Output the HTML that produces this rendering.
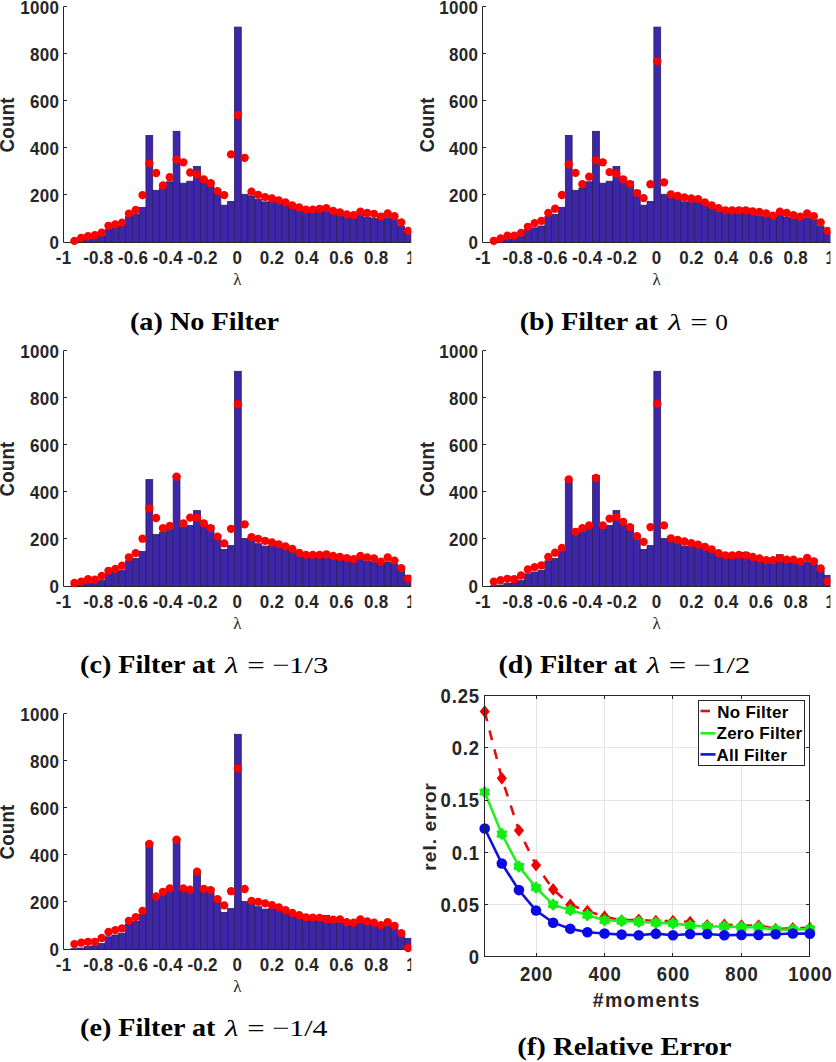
<!DOCTYPE html>
<html><head><meta charset="utf-8"><style>
html,body{margin:0;padding:0;background:#fff;}
svg{display:block;}
</style></head><body>
<svg width="836" height="1062" viewBox="0 0 836 1062">
<rect width="836" height="1062" fill="#ffffff"/>
<clipPath id="ca"><rect x="0" y="0" width="411.2" height="300"/></clipPath>
<g clip-path="url(#ca)">
<g>
<rect x="71.01" y="241.50" width="6.81" height="1.00" fill="#3d26a8" stroke="#2a1f5c" stroke-width="0.8"/>
<rect x="77.82" y="240.80" width="6.81" height="1.70" fill="#3d26a8" stroke="#2a1f5c" stroke-width="0.8"/>
<rect x="84.63" y="239.40" width="6.81" height="3.10" fill="#3d26a8" stroke="#2a1f5c" stroke-width="0.8"/>
<rect x="91.44" y="238.60" width="6.81" height="3.90" fill="#3d26a8" stroke="#2a1f5c" stroke-width="0.8"/>
<rect x="98.25" y="236.40" width="6.81" height="6.10" fill="#3d26a8" stroke="#2a1f5c" stroke-width="0.8"/>
<rect x="105.06" y="229.60" width="6.81" height="12.90" fill="#3d26a8" stroke="#2a1f5c" stroke-width="0.8"/>
<rect x="111.87" y="227.80" width="6.81" height="14.70" fill="#3d26a8" stroke="#2a1f5c" stroke-width="0.8"/>
<rect x="118.68" y="226.00" width="6.81" height="16.50" fill="#3d26a8" stroke="#2a1f5c" stroke-width="0.8"/>
<rect x="125.49" y="216.60" width="6.81" height="25.90" fill="#3d26a8" stroke="#2a1f5c" stroke-width="0.8"/>
<rect x="132.30" y="214.30" width="6.81" height="28.20" fill="#3d26a8" stroke="#2a1f5c" stroke-width="0.8"/>
<rect x="139.11" y="207.30" width="6.81" height="35.20" fill="#3d26a8" stroke="#2a1f5c" stroke-width="0.8"/>
<rect x="145.92" y="135.40" width="6.81" height="107.10" fill="#3d26a8" stroke="#2a1f5c" stroke-width="0.8"/>
<rect x="152.73" y="190.30" width="6.81" height="52.20" fill="#3d26a8" stroke="#2a1f5c" stroke-width="0.8"/>
<rect x="159.54" y="188.00" width="6.81" height="54.50" fill="#3d26a8" stroke="#2a1f5c" stroke-width="0.8"/>
<rect x="166.35" y="181.80" width="6.81" height="60.70" fill="#3d26a8" stroke="#2a1f5c" stroke-width="0.8"/>
<rect x="173.16" y="131.30" width="6.81" height="111.20" fill="#3d26a8" stroke="#2a1f5c" stroke-width="0.8"/>
<rect x="179.97" y="183.20" width="6.81" height="59.30" fill="#3d26a8" stroke="#2a1f5c" stroke-width="0.8"/>
<rect x="186.78" y="181.20" width="6.81" height="61.30" fill="#3d26a8" stroke="#2a1f5c" stroke-width="0.8"/>
<rect x="193.59" y="166.40" width="6.81" height="76.10" fill="#3d26a8" stroke="#2a1f5c" stroke-width="0.8"/>
<rect x="200.40" y="180.00" width="6.81" height="62.50" fill="#3d26a8" stroke="#2a1f5c" stroke-width="0.8"/>
<rect x="207.21" y="181.20" width="6.81" height="61.30" fill="#3d26a8" stroke="#2a1f5c" stroke-width="0.8"/>
<rect x="214.02" y="190.20" width="6.81" height="52.30" fill="#3d26a8" stroke="#2a1f5c" stroke-width="0.8"/>
<rect x="220.83" y="205.20" width="6.81" height="37.30" fill="#3d26a8" stroke="#2a1f5c" stroke-width="0.8"/>
<rect x="227.64" y="201.40" width="6.81" height="41.10" fill="#3d26a8" stroke="#2a1f5c" stroke-width="0.8"/>
<rect x="234.45" y="27.10" width="6.81" height="215.40" fill="#3d26a8" stroke="#2a1f5c" stroke-width="0.8"/>
<rect x="241.26" y="194.30" width="6.81" height="48.20" fill="#3d26a8" stroke="#2a1f5c" stroke-width="0.8"/>
<rect x="248.07" y="196.00" width="6.81" height="46.50" fill="#3d26a8" stroke="#2a1f5c" stroke-width="0.8"/>
<rect x="254.88" y="199.50" width="6.81" height="43.00" fill="#3d26a8" stroke="#2a1f5c" stroke-width="0.8"/>
<rect x="261.69" y="201.90" width="6.81" height="40.60" fill="#3d26a8" stroke="#2a1f5c" stroke-width="0.8"/>
<rect x="268.50" y="201.50" width="6.81" height="41.00" fill="#3d26a8" stroke="#2a1f5c" stroke-width="0.8"/>
<rect x="275.31" y="202.80" width="6.81" height="39.70" fill="#3d26a8" stroke="#2a1f5c" stroke-width="0.8"/>
<rect x="282.12" y="205.00" width="6.81" height="37.50" fill="#3d26a8" stroke="#2a1f5c" stroke-width="0.8"/>
<rect x="288.93" y="207.60" width="6.81" height="34.90" fill="#3d26a8" stroke="#2a1f5c" stroke-width="0.8"/>
<rect x="295.74" y="210.60" width="6.81" height="31.90" fill="#3d26a8" stroke="#2a1f5c" stroke-width="0.8"/>
<rect x="302.55" y="212.30" width="6.81" height="30.20" fill="#3d26a8" stroke="#2a1f5c" stroke-width="0.8"/>
<rect x="309.36" y="212.00" width="6.81" height="30.50" fill="#3d26a8" stroke="#2a1f5c" stroke-width="0.8"/>
<rect x="316.17" y="211.00" width="6.81" height="31.50" fill="#3d26a8" stroke="#2a1f5c" stroke-width="0.8"/>
<rect x="322.98" y="208.10" width="6.81" height="34.40" fill="#3d26a8" stroke="#2a1f5c" stroke-width="0.8"/>
<rect x="329.79" y="212.00" width="6.81" height="30.50" fill="#3d26a8" stroke="#2a1f5c" stroke-width="0.8"/>
<rect x="336.60" y="215.80" width="6.81" height="26.70" fill="#3d26a8" stroke="#2a1f5c" stroke-width="0.8"/>
<rect x="343.41" y="216.80" width="6.81" height="25.70" fill="#3d26a8" stroke="#2a1f5c" stroke-width="0.8"/>
<rect x="350.22" y="218.30" width="6.81" height="24.20" fill="#3d26a8" stroke="#2a1f5c" stroke-width="0.8"/>
<rect x="357.03" y="210.50" width="6.81" height="32.00" fill="#3d26a8" stroke="#2a1f5c" stroke-width="0.8"/>
<rect x="363.84" y="217.30" width="6.81" height="25.20" fill="#3d26a8" stroke="#2a1f5c" stroke-width="0.8"/>
<rect x="370.65" y="218.30" width="6.81" height="24.20" fill="#3d26a8" stroke="#2a1f5c" stroke-width="0.8"/>
<rect x="377.46" y="219.70" width="6.81" height="22.80" fill="#3d26a8" stroke="#2a1f5c" stroke-width="0.8"/>
<rect x="384.27" y="217.80" width="6.81" height="24.70" fill="#3d26a8" stroke="#2a1f5c" stroke-width="0.8"/>
<rect x="391.08" y="219.70" width="6.81" height="22.80" fill="#3d26a8" stroke="#2a1f5c" stroke-width="0.8"/>
<rect x="397.89" y="226.40" width="6.81" height="16.10" fill="#3d26a8" stroke="#2a1f5c" stroke-width="0.8"/>
<rect x="404.70" y="231.10" width="6.81" height="11.40" fill="#3d26a8" stroke="#2a1f5c" stroke-width="0.8"/>
<path d="M63.50 6.60V242.50H411.51" fill="none" stroke="#262626" stroke-width="1"/>
<line x1="63.50" y1="194.50" x2="67.00" y2="194.50" stroke="#262626" stroke-width="1"/>
<line x1="63.50" y1="147.50" x2="67.00" y2="147.50" stroke="#262626" stroke-width="1"/>
<line x1="63.50" y1="100.50" x2="67.00" y2="100.50" stroke="#262626" stroke-width="1"/>
<line x1="63.50" y1="53.50" x2="67.00" y2="53.50" stroke="#262626" stroke-width="1"/>
<line x1="63.50" y1="6.50" x2="67.00" y2="6.50" stroke="#262626" stroke-width="1"/>
<circle cx="74.42" cy="240.90" r="4.15" fill="#ff0000"/>
<circle cx="81.22" cy="237.80" r="4.15" fill="#ff0000"/>
<circle cx="88.03" cy="236.20" r="4.15" fill="#ff0000"/>
<circle cx="94.84" cy="235.20" r="4.15" fill="#ff0000"/>
<circle cx="101.66" cy="232.60" r="4.15" fill="#ff0000"/>
<circle cx="108.47" cy="225.80" r="4.15" fill="#ff0000"/>
<circle cx="115.28" cy="224.50" r="4.15" fill="#ff0000"/>
<circle cx="122.09" cy="222.60" r="4.15" fill="#ff0000"/>
<circle cx="128.89" cy="213.60" r="4.15" fill="#ff0000"/>
<circle cx="135.70" cy="210.00" r="4.15" fill="#ff0000"/>
<circle cx="142.51" cy="195.10" r="4.15" fill="#ff0000"/>
<circle cx="149.32" cy="163.40" r="4.15" fill="#ff0000"/>
<circle cx="156.13" cy="173.00" r="4.15" fill="#ff0000"/>
<circle cx="162.94" cy="185.50" r="4.15" fill="#ff0000"/>
<circle cx="169.75" cy="177.20" r="4.15" fill="#ff0000"/>
<circle cx="176.56" cy="159.50" r="4.15" fill="#ff0000"/>
<circle cx="183.38" cy="162.30" r="4.15" fill="#ff0000"/>
<circle cx="190.19" cy="172.50" r="4.15" fill="#ff0000"/>
<circle cx="197.00" cy="174.30" r="4.15" fill="#ff0000"/>
<circle cx="203.81" cy="179.50" r="4.15" fill="#ff0000"/>
<circle cx="210.62" cy="183.20" r="4.15" fill="#ff0000"/>
<circle cx="217.43" cy="191.10" r="4.15" fill="#ff0000"/>
<circle cx="224.24" cy="195.10" r="4.15" fill="#ff0000"/>
<circle cx="231.05" cy="154.40" r="4.15" fill="#ff0000"/>
<circle cx="237.86" cy="115.00" r="4.15" fill="#ff0000"/>
<circle cx="244.67" cy="157.80" r="4.15" fill="#ff0000"/>
<circle cx="251.47" cy="191.70" r="4.15" fill="#ff0000"/>
<circle cx="258.28" cy="194.90" r="4.15" fill="#ff0000"/>
<circle cx="265.09" cy="197.10" r="4.15" fill="#ff0000"/>
<circle cx="271.90" cy="198.50" r="4.15" fill="#ff0000"/>
<circle cx="278.71" cy="200.30" r="4.15" fill="#ff0000"/>
<circle cx="285.52" cy="202.40" r="4.15" fill="#ff0000"/>
<circle cx="292.33" cy="205.40" r="4.15" fill="#ff0000"/>
<circle cx="299.14" cy="207.50" r="4.15" fill="#ff0000"/>
<circle cx="305.95" cy="209.60" r="4.15" fill="#ff0000"/>
<circle cx="312.76" cy="209.60" r="4.15" fill="#ff0000"/>
<circle cx="319.57" cy="208.80" r="4.15" fill="#ff0000"/>
<circle cx="326.38" cy="208.10" r="4.15" fill="#ff0000"/>
<circle cx="333.19" cy="210.90" r="4.15" fill="#ff0000"/>
<circle cx="340.00" cy="212.40" r="4.15" fill="#ff0000"/>
<circle cx="346.81" cy="214.50" r="4.15" fill="#ff0000"/>
<circle cx="353.62" cy="215.20" r="4.15" fill="#ff0000"/>
<circle cx="360.43" cy="211.70" r="4.15" fill="#ff0000"/>
<circle cx="367.24" cy="213.00" r="4.15" fill="#ff0000"/>
<circle cx="374.05" cy="213.90" r="4.15" fill="#ff0000"/>
<circle cx="380.86" cy="216.60" r="4.15" fill="#ff0000"/>
<circle cx="387.67" cy="213.50" r="4.15" fill="#ff0000"/>
<circle cx="394.48" cy="216.20" r="4.15" fill="#ff0000"/>
<circle cx="401.29" cy="222.40" r="4.15" fill="#ff0000"/>
<circle cx="408.10" cy="230.90" r="4.15" fill="#ff0000"/>
<text transform="translate(59.10,248.70) scale(1,1.09)" text-anchor="end" style="font-family:'Liberation Sans',sans-serif;font-weight:bold;font-size:17px;letter-spacing:0.25px;" fill="#262626">0</text>
<text transform="translate(59.10,201.66) scale(1,1.09)" text-anchor="end" style="font-family:'Liberation Sans',sans-serif;font-weight:bold;font-size:17px;letter-spacing:0.25px;" fill="#262626">200</text>
<text transform="translate(59.10,154.62) scale(1,1.09)" text-anchor="end" style="font-family:'Liberation Sans',sans-serif;font-weight:bold;font-size:17px;letter-spacing:0.25px;" fill="#262626">400</text>
<text transform="translate(59.10,107.58) scale(1,1.09)" text-anchor="end" style="font-family:'Liberation Sans',sans-serif;font-weight:bold;font-size:17px;letter-spacing:0.25px;" fill="#262626">600</text>
<text transform="translate(59.10,60.54) scale(1,1.09)" text-anchor="end" style="font-family:'Liberation Sans',sans-serif;font-weight:bold;font-size:17px;letter-spacing:0.25px;" fill="#262626">800</text>
<text transform="translate(59.10,13.50) scale(1,1.09)" text-anchor="end" style="font-family:'Liberation Sans',sans-serif;font-weight:bold;font-size:17px;letter-spacing:0.25px;" fill="#262626">1000</text>
<text transform="translate(63.60,264.10) scale(1,1.09)" text-anchor="middle" style="font-family:'Liberation Sans',sans-serif;font-weight:bold;font-size:17px;letter-spacing:0.25px;" fill="#262626">-1</text>
<text transform="translate(98.34,264.10) scale(1,1.09)" text-anchor="middle" style="font-family:'Liberation Sans',sans-serif;font-weight:bold;font-size:17px;letter-spacing:0.25px;" fill="#262626">-0.8</text>
<text transform="translate(133.08,264.10) scale(1,1.09)" text-anchor="middle" style="font-family:'Liberation Sans',sans-serif;font-weight:bold;font-size:17px;letter-spacing:0.25px;" fill="#262626">-0.6</text>
<text transform="translate(167.82,264.10) scale(1,1.09)" text-anchor="middle" style="font-family:'Liberation Sans',sans-serif;font-weight:bold;font-size:17px;letter-spacing:0.25px;" fill="#262626">-0.4</text>
<text transform="translate(202.56,264.10) scale(1,1.09)" text-anchor="middle" style="font-family:'Liberation Sans',sans-serif;font-weight:bold;font-size:17px;letter-spacing:0.25px;" fill="#262626">-0.2</text>
<text transform="translate(237.30,264.10) scale(1,1.09)" text-anchor="middle" style="font-family:'Liberation Sans',sans-serif;font-weight:bold;font-size:17px;letter-spacing:0.25px;" fill="#262626">0</text>
<text transform="translate(272.04,264.10) scale(1,1.09)" text-anchor="middle" style="font-family:'Liberation Sans',sans-serif;font-weight:bold;font-size:17px;letter-spacing:0.25px;" fill="#262626">0.2</text>
<text transform="translate(306.78,264.10) scale(1,1.09)" text-anchor="middle" style="font-family:'Liberation Sans',sans-serif;font-weight:bold;font-size:17px;letter-spacing:0.25px;" fill="#262626">0.4</text>
<text transform="translate(341.52,264.10) scale(1,1.09)" text-anchor="middle" style="font-family:'Liberation Sans',sans-serif;font-weight:bold;font-size:17px;letter-spacing:0.25px;" fill="#262626">0.6</text>
<text transform="translate(376.26,264.10) scale(1,1.09)" text-anchor="middle" style="font-family:'Liberation Sans',sans-serif;font-weight:bold;font-size:17px;letter-spacing:0.25px;" fill="#262626">0.8</text>
<text transform="translate(411.00,264.10) scale(1,1.09)" text-anchor="middle" style="font-family:'Liberation Sans',sans-serif;font-weight:bold;font-size:17px;letter-spacing:0.25px;" fill="#262626">1</text>
<text x="237.30" y="284.80" text-anchor="middle" style="font-family:'Liberation Serif',serif;font-size:17px" fill="#262626">λ</text>
<text transform="translate(14.20,124.80) rotate(-90) scale(0.98,1.1)" text-anchor="middle" style="font-family:'Liberation Sans',sans-serif;font-weight:bold;font-size:19px;letter-spacing:0.3px;" fill="#262626">Count</text>
</g>
</g>
<clipPath id="cb"><rect x="419.4" y="0" width="411.0" height="300"/></clipPath>
<g clip-path="url(#cb)">
<g>
<rect x="490.41" y="241.50" width="6.81" height="1.00" fill="#3d26a8" stroke="#2a1f5c" stroke-width="0.8"/>
<rect x="497.22" y="240.80" width="6.81" height="1.70" fill="#3d26a8" stroke="#2a1f5c" stroke-width="0.8"/>
<rect x="504.03" y="239.40" width="6.81" height="3.10" fill="#3d26a8" stroke="#2a1f5c" stroke-width="0.8"/>
<rect x="510.84" y="238.60" width="6.81" height="3.90" fill="#3d26a8" stroke="#2a1f5c" stroke-width="0.8"/>
<rect x="517.65" y="236.40" width="6.81" height="6.10" fill="#3d26a8" stroke="#2a1f5c" stroke-width="0.8"/>
<rect x="524.46" y="229.60" width="6.81" height="12.90" fill="#3d26a8" stroke="#2a1f5c" stroke-width="0.8"/>
<rect x="531.27" y="227.80" width="6.81" height="14.70" fill="#3d26a8" stroke="#2a1f5c" stroke-width="0.8"/>
<rect x="538.08" y="226.00" width="6.81" height="16.50" fill="#3d26a8" stroke="#2a1f5c" stroke-width="0.8"/>
<rect x="544.89" y="216.60" width="6.81" height="25.90" fill="#3d26a8" stroke="#2a1f5c" stroke-width="0.8"/>
<rect x="551.70" y="214.30" width="6.81" height="28.20" fill="#3d26a8" stroke="#2a1f5c" stroke-width="0.8"/>
<rect x="558.51" y="207.30" width="6.81" height="35.20" fill="#3d26a8" stroke="#2a1f5c" stroke-width="0.8"/>
<rect x="565.32" y="135.40" width="6.81" height="107.10" fill="#3d26a8" stroke="#2a1f5c" stroke-width="0.8"/>
<rect x="572.13" y="190.30" width="6.81" height="52.20" fill="#3d26a8" stroke="#2a1f5c" stroke-width="0.8"/>
<rect x="578.94" y="188.00" width="6.81" height="54.50" fill="#3d26a8" stroke="#2a1f5c" stroke-width="0.8"/>
<rect x="585.75" y="181.80" width="6.81" height="60.70" fill="#3d26a8" stroke="#2a1f5c" stroke-width="0.8"/>
<rect x="592.56" y="131.30" width="6.81" height="111.20" fill="#3d26a8" stroke="#2a1f5c" stroke-width="0.8"/>
<rect x="599.37" y="183.20" width="6.81" height="59.30" fill="#3d26a8" stroke="#2a1f5c" stroke-width="0.8"/>
<rect x="606.18" y="181.20" width="6.81" height="61.30" fill="#3d26a8" stroke="#2a1f5c" stroke-width="0.8"/>
<rect x="612.99" y="166.40" width="6.81" height="76.10" fill="#3d26a8" stroke="#2a1f5c" stroke-width="0.8"/>
<rect x="619.80" y="180.00" width="6.81" height="62.50" fill="#3d26a8" stroke="#2a1f5c" stroke-width="0.8"/>
<rect x="626.61" y="181.20" width="6.81" height="61.30" fill="#3d26a8" stroke="#2a1f5c" stroke-width="0.8"/>
<rect x="633.42" y="190.20" width="6.81" height="52.30" fill="#3d26a8" stroke="#2a1f5c" stroke-width="0.8"/>
<rect x="640.23" y="205.20" width="6.81" height="37.30" fill="#3d26a8" stroke="#2a1f5c" stroke-width="0.8"/>
<rect x="647.04" y="201.40" width="6.81" height="41.10" fill="#3d26a8" stroke="#2a1f5c" stroke-width="0.8"/>
<rect x="653.85" y="27.10" width="6.81" height="215.40" fill="#3d26a8" stroke="#2a1f5c" stroke-width="0.8"/>
<rect x="660.66" y="194.30" width="6.81" height="48.20" fill="#3d26a8" stroke="#2a1f5c" stroke-width="0.8"/>
<rect x="667.47" y="196.00" width="6.81" height="46.50" fill="#3d26a8" stroke="#2a1f5c" stroke-width="0.8"/>
<rect x="674.28" y="199.50" width="6.81" height="43.00" fill="#3d26a8" stroke="#2a1f5c" stroke-width="0.8"/>
<rect x="681.09" y="201.90" width="6.81" height="40.60" fill="#3d26a8" stroke="#2a1f5c" stroke-width="0.8"/>
<rect x="687.90" y="201.50" width="6.81" height="41.00" fill="#3d26a8" stroke="#2a1f5c" stroke-width="0.8"/>
<rect x="694.71" y="202.80" width="6.81" height="39.70" fill="#3d26a8" stroke="#2a1f5c" stroke-width="0.8"/>
<rect x="701.52" y="205.00" width="6.81" height="37.50" fill="#3d26a8" stroke="#2a1f5c" stroke-width="0.8"/>
<rect x="708.33" y="207.60" width="6.81" height="34.90" fill="#3d26a8" stroke="#2a1f5c" stroke-width="0.8"/>
<rect x="715.14" y="210.60" width="6.81" height="31.90" fill="#3d26a8" stroke="#2a1f5c" stroke-width="0.8"/>
<rect x="721.95" y="212.30" width="6.81" height="30.20" fill="#3d26a8" stroke="#2a1f5c" stroke-width="0.8"/>
<rect x="728.76" y="212.00" width="6.81" height="30.50" fill="#3d26a8" stroke="#2a1f5c" stroke-width="0.8"/>
<rect x="735.57" y="211.00" width="6.81" height="31.50" fill="#3d26a8" stroke="#2a1f5c" stroke-width="0.8"/>
<rect x="742.38" y="208.10" width="6.81" height="34.40" fill="#3d26a8" stroke="#2a1f5c" stroke-width="0.8"/>
<rect x="749.19" y="212.00" width="6.81" height="30.50" fill="#3d26a8" stroke="#2a1f5c" stroke-width="0.8"/>
<rect x="756.00" y="215.80" width="6.81" height="26.70" fill="#3d26a8" stroke="#2a1f5c" stroke-width="0.8"/>
<rect x="762.81" y="216.80" width="6.81" height="25.70" fill="#3d26a8" stroke="#2a1f5c" stroke-width="0.8"/>
<rect x="769.62" y="218.30" width="6.81" height="24.20" fill="#3d26a8" stroke="#2a1f5c" stroke-width="0.8"/>
<rect x="776.43" y="210.50" width="6.81" height="32.00" fill="#3d26a8" stroke="#2a1f5c" stroke-width="0.8"/>
<rect x="783.24" y="217.30" width="6.81" height="25.20" fill="#3d26a8" stroke="#2a1f5c" stroke-width="0.8"/>
<rect x="790.05" y="218.30" width="6.81" height="24.20" fill="#3d26a8" stroke="#2a1f5c" stroke-width="0.8"/>
<rect x="796.86" y="219.70" width="6.81" height="22.80" fill="#3d26a8" stroke="#2a1f5c" stroke-width="0.8"/>
<rect x="803.67" y="217.80" width="6.81" height="24.70" fill="#3d26a8" stroke="#2a1f5c" stroke-width="0.8"/>
<rect x="810.48" y="219.70" width="6.81" height="22.80" fill="#3d26a8" stroke="#2a1f5c" stroke-width="0.8"/>
<rect x="817.29" y="226.40" width="6.81" height="16.10" fill="#3d26a8" stroke="#2a1f5c" stroke-width="0.8"/>
<rect x="824.10" y="231.10" width="6.81" height="11.40" fill="#3d26a8" stroke="#2a1f5c" stroke-width="0.8"/>
<path d="M482.50 6.60V242.50H830.91" fill="none" stroke="#262626" stroke-width="1"/>
<line x1="482.50" y1="194.50" x2="486.00" y2="194.50" stroke="#262626" stroke-width="1"/>
<line x1="482.50" y1="147.50" x2="486.00" y2="147.50" stroke="#262626" stroke-width="1"/>
<line x1="482.50" y1="100.50" x2="486.00" y2="100.50" stroke="#262626" stroke-width="1"/>
<line x1="482.50" y1="53.50" x2="486.00" y2="53.50" stroke="#262626" stroke-width="1"/>
<line x1="482.50" y1="6.50" x2="486.00" y2="6.50" stroke="#262626" stroke-width="1"/>
<circle cx="493.81" cy="240.80" r="4.15" fill="#ff0000"/>
<circle cx="500.62" cy="238.50" r="4.15" fill="#ff0000"/>
<circle cx="507.43" cy="235.70" r="4.15" fill="#ff0000"/>
<circle cx="514.25" cy="235.70" r="4.15" fill="#ff0000"/>
<circle cx="521.05" cy="232.90" r="4.15" fill="#ff0000"/>
<circle cx="527.87" cy="226.80" r="4.15" fill="#ff0000"/>
<circle cx="534.67" cy="223.10" r="4.15" fill="#ff0000"/>
<circle cx="541.49" cy="220.80" r="4.15" fill="#ff0000"/>
<circle cx="548.29" cy="212.90" r="4.15" fill="#ff0000"/>
<circle cx="555.11" cy="208.70" r="4.15" fill="#ff0000"/>
<circle cx="561.91" cy="195.00" r="4.15" fill="#ff0000"/>
<circle cx="568.72" cy="164.50" r="4.15" fill="#ff0000"/>
<circle cx="575.53" cy="172.90" r="4.15" fill="#ff0000"/>
<circle cx="582.34" cy="184.20" r="4.15" fill="#ff0000"/>
<circle cx="589.15" cy="176.70" r="4.15" fill="#ff0000"/>
<circle cx="595.96" cy="160.20" r="4.15" fill="#ff0000"/>
<circle cx="602.77" cy="162.30" r="4.15" fill="#ff0000"/>
<circle cx="609.58" cy="172.10" r="4.15" fill="#ff0000"/>
<circle cx="616.39" cy="173.90" r="4.15" fill="#ff0000"/>
<circle cx="623.20" cy="179.30" r="4.15" fill="#ff0000"/>
<circle cx="630.01" cy="184.10" r="4.15" fill="#ff0000"/>
<circle cx="636.82" cy="193.10" r="4.15" fill="#ff0000"/>
<circle cx="643.63" cy="198.10" r="4.15" fill="#ff0000"/>
<circle cx="650.44" cy="184.20" r="4.15" fill="#ff0000"/>
<circle cx="657.25" cy="61.30" r="4.15" fill="#ff0000"/>
<circle cx="664.06" cy="182.30" r="4.15" fill="#ff0000"/>
<circle cx="670.88" cy="194.30" r="4.15" fill="#ff0000"/>
<circle cx="677.68" cy="196.00" r="4.15" fill="#ff0000"/>
<circle cx="684.49" cy="197.50" r="4.15" fill="#ff0000"/>
<circle cx="691.30" cy="198.50" r="4.15" fill="#ff0000"/>
<circle cx="698.12" cy="199.20" r="4.15" fill="#ff0000"/>
<circle cx="704.92" cy="202.40" r="4.15" fill="#ff0000"/>
<circle cx="711.73" cy="205.40" r="4.15" fill="#ff0000"/>
<circle cx="718.54" cy="208.10" r="4.15" fill="#ff0000"/>
<circle cx="725.36" cy="210.30" r="4.15" fill="#ff0000"/>
<circle cx="732.16" cy="210.30" r="4.15" fill="#ff0000"/>
<circle cx="738.97" cy="210.30" r="4.15" fill="#ff0000"/>
<circle cx="745.78" cy="210.30" r="4.15" fill="#ff0000"/>
<circle cx="752.60" cy="211.30" r="4.15" fill="#ff0000"/>
<circle cx="759.40" cy="212.00" r="4.15" fill="#ff0000"/>
<circle cx="766.21" cy="213.50" r="4.15" fill="#ff0000"/>
<circle cx="773.02" cy="215.60" r="4.15" fill="#ff0000"/>
<circle cx="779.83" cy="211.70" r="4.15" fill="#ff0000"/>
<circle cx="786.64" cy="213.00" r="4.15" fill="#ff0000"/>
<circle cx="793.45" cy="215.20" r="4.15" fill="#ff0000"/>
<circle cx="800.26" cy="216.60" r="4.15" fill="#ff0000"/>
<circle cx="807.07" cy="213.50" r="4.15" fill="#ff0000"/>
<circle cx="813.88" cy="216.20" r="4.15" fill="#ff0000"/>
<circle cx="820.69" cy="222.40" r="4.15" fill="#ff0000"/>
<circle cx="827.50" cy="230.90" r="4.15" fill="#ff0000"/>
<text transform="translate(478.10,248.70) scale(1,1.09)" text-anchor="end" style="font-family:'Liberation Sans',sans-serif;font-weight:bold;font-size:17px;letter-spacing:0.25px;" fill="#262626">0</text>
<text transform="translate(478.10,201.66) scale(1,1.09)" text-anchor="end" style="font-family:'Liberation Sans',sans-serif;font-weight:bold;font-size:17px;letter-spacing:0.25px;" fill="#262626">200</text>
<text transform="translate(478.10,154.62) scale(1,1.09)" text-anchor="end" style="font-family:'Liberation Sans',sans-serif;font-weight:bold;font-size:17px;letter-spacing:0.25px;" fill="#262626">400</text>
<text transform="translate(478.10,107.58) scale(1,1.09)" text-anchor="end" style="font-family:'Liberation Sans',sans-serif;font-weight:bold;font-size:17px;letter-spacing:0.25px;" fill="#262626">600</text>
<text transform="translate(478.10,60.54) scale(1,1.09)" text-anchor="end" style="font-family:'Liberation Sans',sans-serif;font-weight:bold;font-size:17px;letter-spacing:0.25px;" fill="#262626">800</text>
<text transform="translate(478.10,13.50) scale(1,1.09)" text-anchor="end" style="font-family:'Liberation Sans',sans-serif;font-weight:bold;font-size:17px;letter-spacing:0.25px;" fill="#262626">1000</text>
<text transform="translate(483.00,264.10) scale(1,1.09)" text-anchor="middle" style="font-family:'Liberation Sans',sans-serif;font-weight:bold;font-size:17px;letter-spacing:0.25px;" fill="#262626">-1</text>
<text transform="translate(517.74,264.10) scale(1,1.09)" text-anchor="middle" style="font-family:'Liberation Sans',sans-serif;font-weight:bold;font-size:17px;letter-spacing:0.25px;" fill="#262626">-0.8</text>
<text transform="translate(552.48,264.10) scale(1,1.09)" text-anchor="middle" style="font-family:'Liberation Sans',sans-serif;font-weight:bold;font-size:17px;letter-spacing:0.25px;" fill="#262626">-0.6</text>
<text transform="translate(587.22,264.10) scale(1,1.09)" text-anchor="middle" style="font-family:'Liberation Sans',sans-serif;font-weight:bold;font-size:17px;letter-spacing:0.25px;" fill="#262626">-0.4</text>
<text transform="translate(621.96,264.10) scale(1,1.09)" text-anchor="middle" style="font-family:'Liberation Sans',sans-serif;font-weight:bold;font-size:17px;letter-spacing:0.25px;" fill="#262626">-0.2</text>
<text transform="translate(656.70,264.10) scale(1,1.09)" text-anchor="middle" style="font-family:'Liberation Sans',sans-serif;font-weight:bold;font-size:17px;letter-spacing:0.25px;" fill="#262626">0</text>
<text transform="translate(691.44,264.10) scale(1,1.09)" text-anchor="middle" style="font-family:'Liberation Sans',sans-serif;font-weight:bold;font-size:17px;letter-spacing:0.25px;" fill="#262626">0.2</text>
<text transform="translate(726.18,264.10) scale(1,1.09)" text-anchor="middle" style="font-family:'Liberation Sans',sans-serif;font-weight:bold;font-size:17px;letter-spacing:0.25px;" fill="#262626">0.4</text>
<text transform="translate(760.92,264.10) scale(1,1.09)" text-anchor="middle" style="font-family:'Liberation Sans',sans-serif;font-weight:bold;font-size:17px;letter-spacing:0.25px;" fill="#262626">0.6</text>
<text transform="translate(795.66,264.10) scale(1,1.09)" text-anchor="middle" style="font-family:'Liberation Sans',sans-serif;font-weight:bold;font-size:17px;letter-spacing:0.25px;" fill="#262626">0.8</text>
<text transform="translate(830.40,264.10) scale(1,1.09)" text-anchor="middle" style="font-family:'Liberation Sans',sans-serif;font-weight:bold;font-size:17px;letter-spacing:0.25px;" fill="#262626">1</text>
<text x="656.70" y="284.80" text-anchor="middle" style="font-family:'Liberation Serif',serif;font-size:17px" fill="#262626">λ</text>
<text transform="translate(433.60,124.80) rotate(-90) scale(0.98,1.1)" text-anchor="middle" style="font-family:'Liberation Sans',sans-serif;font-weight:bold;font-size:19px;letter-spacing:0.3px;" fill="#262626">Count</text>
</g>
</g>
<clipPath id="cc"><rect x="0" y="344.2" width="411.2" height="300"/></clipPath>
<g clip-path="url(#cc)">
<g>
<rect x="71.01" y="585.70" width="6.81" height="0.80" fill="#3d26a8" stroke="#2a1f5c" stroke-width="0.8"/>
<rect x="77.82" y="585.00" width="6.81" height="1.50" fill="#3d26a8" stroke="#2a1f5c" stroke-width="0.8"/>
<rect x="84.63" y="583.60" width="6.81" height="2.90" fill="#3d26a8" stroke="#2a1f5c" stroke-width="0.8"/>
<rect x="91.44" y="582.80" width="6.81" height="3.70" fill="#3d26a8" stroke="#2a1f5c" stroke-width="0.8"/>
<rect x="98.25" y="580.60" width="6.81" height="5.90" fill="#3d26a8" stroke="#2a1f5c" stroke-width="0.8"/>
<rect x="105.06" y="573.80" width="6.81" height="12.70" fill="#3d26a8" stroke="#2a1f5c" stroke-width="0.8"/>
<rect x="111.87" y="572.00" width="6.81" height="14.50" fill="#3d26a8" stroke="#2a1f5c" stroke-width="0.8"/>
<rect x="118.68" y="570.20" width="6.81" height="16.30" fill="#3d26a8" stroke="#2a1f5c" stroke-width="0.8"/>
<rect x="125.49" y="560.80" width="6.81" height="25.70" fill="#3d26a8" stroke="#2a1f5c" stroke-width="0.8"/>
<rect x="132.30" y="558.50" width="6.81" height="28.00" fill="#3d26a8" stroke="#2a1f5c" stroke-width="0.8"/>
<rect x="139.11" y="551.50" width="6.81" height="35.00" fill="#3d26a8" stroke="#2a1f5c" stroke-width="0.8"/>
<rect x="145.92" y="479.60" width="6.81" height="106.90" fill="#3d26a8" stroke="#2a1f5c" stroke-width="0.8"/>
<rect x="152.73" y="534.50" width="6.81" height="52.00" fill="#3d26a8" stroke="#2a1f5c" stroke-width="0.8"/>
<rect x="159.54" y="532.20" width="6.81" height="54.30" fill="#3d26a8" stroke="#2a1f5c" stroke-width="0.8"/>
<rect x="166.35" y="526.00" width="6.81" height="60.50" fill="#3d26a8" stroke="#2a1f5c" stroke-width="0.8"/>
<rect x="173.16" y="475.50" width="6.81" height="111.00" fill="#3d26a8" stroke="#2a1f5c" stroke-width="0.8"/>
<rect x="179.97" y="527.40" width="6.81" height="59.10" fill="#3d26a8" stroke="#2a1f5c" stroke-width="0.8"/>
<rect x="186.78" y="525.40" width="6.81" height="61.10" fill="#3d26a8" stroke="#2a1f5c" stroke-width="0.8"/>
<rect x="193.59" y="510.60" width="6.81" height="75.90" fill="#3d26a8" stroke="#2a1f5c" stroke-width="0.8"/>
<rect x="200.40" y="524.20" width="6.81" height="62.30" fill="#3d26a8" stroke="#2a1f5c" stroke-width="0.8"/>
<rect x="207.21" y="525.40" width="6.81" height="61.10" fill="#3d26a8" stroke="#2a1f5c" stroke-width="0.8"/>
<rect x="214.02" y="534.40" width="6.81" height="52.10" fill="#3d26a8" stroke="#2a1f5c" stroke-width="0.8"/>
<rect x="220.83" y="549.40" width="6.81" height="37.10" fill="#3d26a8" stroke="#2a1f5c" stroke-width="0.8"/>
<rect x="227.64" y="545.60" width="6.81" height="40.90" fill="#3d26a8" stroke="#2a1f5c" stroke-width="0.8"/>
<rect x="234.45" y="371.30" width="6.81" height="215.20" fill="#3d26a8" stroke="#2a1f5c" stroke-width="0.8"/>
<rect x="241.26" y="538.50" width="6.81" height="48.00" fill="#3d26a8" stroke="#2a1f5c" stroke-width="0.8"/>
<rect x="248.07" y="540.20" width="6.81" height="46.30" fill="#3d26a8" stroke="#2a1f5c" stroke-width="0.8"/>
<rect x="254.88" y="543.70" width="6.81" height="42.80" fill="#3d26a8" stroke="#2a1f5c" stroke-width="0.8"/>
<rect x="261.69" y="546.10" width="6.81" height="40.40" fill="#3d26a8" stroke="#2a1f5c" stroke-width="0.8"/>
<rect x="268.50" y="545.70" width="6.81" height="40.80" fill="#3d26a8" stroke="#2a1f5c" stroke-width="0.8"/>
<rect x="275.31" y="547.00" width="6.81" height="39.50" fill="#3d26a8" stroke="#2a1f5c" stroke-width="0.8"/>
<rect x="282.12" y="549.20" width="6.81" height="37.30" fill="#3d26a8" stroke="#2a1f5c" stroke-width="0.8"/>
<rect x="288.93" y="551.80" width="6.81" height="34.70" fill="#3d26a8" stroke="#2a1f5c" stroke-width="0.8"/>
<rect x="295.74" y="554.80" width="6.81" height="31.70" fill="#3d26a8" stroke="#2a1f5c" stroke-width="0.8"/>
<rect x="302.55" y="556.50" width="6.81" height="30.00" fill="#3d26a8" stroke="#2a1f5c" stroke-width="0.8"/>
<rect x="309.36" y="556.20" width="6.81" height="30.30" fill="#3d26a8" stroke="#2a1f5c" stroke-width="0.8"/>
<rect x="316.17" y="555.20" width="6.81" height="31.30" fill="#3d26a8" stroke="#2a1f5c" stroke-width="0.8"/>
<rect x="322.98" y="552.30" width="6.81" height="34.20" fill="#3d26a8" stroke="#2a1f5c" stroke-width="0.8"/>
<rect x="329.79" y="556.20" width="6.81" height="30.30" fill="#3d26a8" stroke="#2a1f5c" stroke-width="0.8"/>
<rect x="336.60" y="560.00" width="6.81" height="26.50" fill="#3d26a8" stroke="#2a1f5c" stroke-width="0.8"/>
<rect x="343.41" y="561.00" width="6.81" height="25.50" fill="#3d26a8" stroke="#2a1f5c" stroke-width="0.8"/>
<rect x="350.22" y="562.50" width="6.81" height="24.00" fill="#3d26a8" stroke="#2a1f5c" stroke-width="0.8"/>
<rect x="357.03" y="554.70" width="6.81" height="31.80" fill="#3d26a8" stroke="#2a1f5c" stroke-width="0.8"/>
<rect x="363.84" y="561.50" width="6.81" height="25.00" fill="#3d26a8" stroke="#2a1f5c" stroke-width="0.8"/>
<rect x="370.65" y="562.50" width="6.81" height="24.00" fill="#3d26a8" stroke="#2a1f5c" stroke-width="0.8"/>
<rect x="377.46" y="563.90" width="6.81" height="22.60" fill="#3d26a8" stroke="#2a1f5c" stroke-width="0.8"/>
<rect x="384.27" y="562.00" width="6.81" height="24.50" fill="#3d26a8" stroke="#2a1f5c" stroke-width="0.8"/>
<rect x="391.08" y="563.90" width="6.81" height="22.60" fill="#3d26a8" stroke="#2a1f5c" stroke-width="0.8"/>
<rect x="397.89" y="570.60" width="6.81" height="15.90" fill="#3d26a8" stroke="#2a1f5c" stroke-width="0.8"/>
<rect x="404.70" y="575.30" width="6.81" height="11.20" fill="#3d26a8" stroke="#2a1f5c" stroke-width="0.8"/>
<path d="M63.50 350.80V586.50H411.51" fill="none" stroke="#262626" stroke-width="1"/>
<line x1="63.50" y1="538.50" x2="67.00" y2="538.50" stroke="#262626" stroke-width="1"/>
<line x1="63.50" y1="491.50" x2="67.00" y2="491.50" stroke="#262626" stroke-width="1"/>
<line x1="63.50" y1="444.50" x2="67.00" y2="444.50" stroke="#262626" stroke-width="1"/>
<line x1="63.50" y1="397.50" x2="67.00" y2="397.50" stroke="#262626" stroke-width="1"/>
<line x1="63.50" y1="350.50" x2="67.00" y2="350.50" stroke="#262626" stroke-width="1"/>
<circle cx="74.42" cy="583.00" r="4.15" fill="#ff0000"/>
<circle cx="81.22" cy="581.60" r="4.15" fill="#ff0000"/>
<circle cx="88.03" cy="579.20" r="4.15" fill="#ff0000"/>
<circle cx="94.84" cy="579.70" r="4.15" fill="#ff0000"/>
<circle cx="101.66" cy="576.00" r="4.15" fill="#ff0000"/>
<circle cx="108.47" cy="570.80" r="4.15" fill="#ff0000"/>
<circle cx="115.28" cy="569.00" r="4.15" fill="#ff0000"/>
<circle cx="122.09" cy="565.70" r="4.15" fill="#ff0000"/>
<circle cx="128.89" cy="557.30" r="4.15" fill="#ff0000"/>
<circle cx="135.70" cy="553.10" r="4.15" fill="#ff0000"/>
<circle cx="142.51" cy="538.70" r="4.15" fill="#ff0000"/>
<circle cx="149.32" cy="508.50" r="4.15" fill="#ff0000"/>
<circle cx="156.13" cy="518.00" r="4.15" fill="#ff0000"/>
<circle cx="162.94" cy="528.20" r="4.15" fill="#ff0000"/>
<circle cx="169.75" cy="526.00" r="4.15" fill="#ff0000"/>
<circle cx="176.56" cy="476.70" r="4.15" fill="#ff0000"/>
<circle cx="183.38" cy="523.30" r="4.15" fill="#ff0000"/>
<circle cx="190.19" cy="517.60" r="4.15" fill="#ff0000"/>
<circle cx="197.00" cy="517.60" r="4.15" fill="#ff0000"/>
<circle cx="203.81" cy="523.30" r="4.15" fill="#ff0000"/>
<circle cx="210.62" cy="528.20" r="4.15" fill="#ff0000"/>
<circle cx="217.43" cy="536.60" r="4.15" fill="#ff0000"/>
<circle cx="224.24" cy="543.40" r="4.15" fill="#ff0000"/>
<circle cx="231.05" cy="528.80" r="4.15" fill="#ff0000"/>
<circle cx="237.86" cy="404.20" r="4.15" fill="#ff0000"/>
<circle cx="244.67" cy="524.30" r="4.15" fill="#ff0000"/>
<circle cx="251.47" cy="537.20" r="4.15" fill="#ff0000"/>
<circle cx="258.28" cy="538.90" r="4.15" fill="#ff0000"/>
<circle cx="265.09" cy="540.80" r="4.15" fill="#ff0000"/>
<circle cx="271.90" cy="542.50" r="4.15" fill="#ff0000"/>
<circle cx="278.71" cy="544.30" r="4.15" fill="#ff0000"/>
<circle cx="285.52" cy="546.40" r="4.15" fill="#ff0000"/>
<circle cx="292.33" cy="548.90" r="4.15" fill="#ff0000"/>
<circle cx="299.14" cy="552.80" r="4.15" fill="#ff0000"/>
<circle cx="305.95" cy="554.90" r="4.15" fill="#ff0000"/>
<circle cx="312.76" cy="554.90" r="4.15" fill="#ff0000"/>
<circle cx="319.57" cy="554.90" r="4.15" fill="#ff0000"/>
<circle cx="326.38" cy="554.30" r="4.15" fill="#ff0000"/>
<circle cx="333.19" cy="556.00" r="4.15" fill="#ff0000"/>
<circle cx="340.00" cy="557.00" r="4.15" fill="#ff0000"/>
<circle cx="346.81" cy="558.10" r="4.15" fill="#ff0000"/>
<circle cx="353.62" cy="559.20" r="4.15" fill="#ff0000"/>
<circle cx="360.43" cy="556.00" r="4.15" fill="#ff0000"/>
<circle cx="367.24" cy="557.50" r="4.15" fill="#ff0000"/>
<circle cx="374.05" cy="558.50" r="4.15" fill="#ff0000"/>
<circle cx="380.86" cy="561.70" r="4.15" fill="#ff0000"/>
<circle cx="387.67" cy="557.50" r="4.15" fill="#ff0000"/>
<circle cx="394.48" cy="560.60" r="4.15" fill="#ff0000"/>
<circle cx="401.29" cy="568.10" r="4.15" fill="#ff0000"/>
<circle cx="408.10" cy="578.70" r="4.15" fill="#ff0000"/>
<text transform="translate(59.10,592.90) scale(1,1.09)" text-anchor="end" style="font-family:'Liberation Sans',sans-serif;font-weight:bold;font-size:17px;letter-spacing:0.25px;" fill="#262626">0</text>
<text transform="translate(59.10,545.86) scale(1,1.09)" text-anchor="end" style="font-family:'Liberation Sans',sans-serif;font-weight:bold;font-size:17px;letter-spacing:0.25px;" fill="#262626">200</text>
<text transform="translate(59.10,498.82) scale(1,1.09)" text-anchor="end" style="font-family:'Liberation Sans',sans-serif;font-weight:bold;font-size:17px;letter-spacing:0.25px;" fill="#262626">400</text>
<text transform="translate(59.10,451.78) scale(1,1.09)" text-anchor="end" style="font-family:'Liberation Sans',sans-serif;font-weight:bold;font-size:17px;letter-spacing:0.25px;" fill="#262626">600</text>
<text transform="translate(59.10,404.74) scale(1,1.09)" text-anchor="end" style="font-family:'Liberation Sans',sans-serif;font-weight:bold;font-size:17px;letter-spacing:0.25px;" fill="#262626">800</text>
<text transform="translate(59.10,357.70) scale(1,1.09)" text-anchor="end" style="font-family:'Liberation Sans',sans-serif;font-weight:bold;font-size:17px;letter-spacing:0.25px;" fill="#262626">1000</text>
<text transform="translate(63.60,608.30) scale(1,1.09)" text-anchor="middle" style="font-family:'Liberation Sans',sans-serif;font-weight:bold;font-size:17px;letter-spacing:0.25px;" fill="#262626">-1</text>
<text transform="translate(98.34,608.30) scale(1,1.09)" text-anchor="middle" style="font-family:'Liberation Sans',sans-serif;font-weight:bold;font-size:17px;letter-spacing:0.25px;" fill="#262626">-0.8</text>
<text transform="translate(133.08,608.30) scale(1,1.09)" text-anchor="middle" style="font-family:'Liberation Sans',sans-serif;font-weight:bold;font-size:17px;letter-spacing:0.25px;" fill="#262626">-0.6</text>
<text transform="translate(167.82,608.30) scale(1,1.09)" text-anchor="middle" style="font-family:'Liberation Sans',sans-serif;font-weight:bold;font-size:17px;letter-spacing:0.25px;" fill="#262626">-0.4</text>
<text transform="translate(202.56,608.30) scale(1,1.09)" text-anchor="middle" style="font-family:'Liberation Sans',sans-serif;font-weight:bold;font-size:17px;letter-spacing:0.25px;" fill="#262626">-0.2</text>
<text transform="translate(237.30,608.30) scale(1,1.09)" text-anchor="middle" style="font-family:'Liberation Sans',sans-serif;font-weight:bold;font-size:17px;letter-spacing:0.25px;" fill="#262626">0</text>
<text transform="translate(272.04,608.30) scale(1,1.09)" text-anchor="middle" style="font-family:'Liberation Sans',sans-serif;font-weight:bold;font-size:17px;letter-spacing:0.25px;" fill="#262626">0.2</text>
<text transform="translate(306.78,608.30) scale(1,1.09)" text-anchor="middle" style="font-family:'Liberation Sans',sans-serif;font-weight:bold;font-size:17px;letter-spacing:0.25px;" fill="#262626">0.4</text>
<text transform="translate(341.52,608.30) scale(1,1.09)" text-anchor="middle" style="font-family:'Liberation Sans',sans-serif;font-weight:bold;font-size:17px;letter-spacing:0.25px;" fill="#262626">0.6</text>
<text transform="translate(376.26,608.30) scale(1,1.09)" text-anchor="middle" style="font-family:'Liberation Sans',sans-serif;font-weight:bold;font-size:17px;letter-spacing:0.25px;" fill="#262626">0.8</text>
<text transform="translate(411.00,608.30) scale(1,1.09)" text-anchor="middle" style="font-family:'Liberation Sans',sans-serif;font-weight:bold;font-size:17px;letter-spacing:0.25px;" fill="#262626">1</text>
<text x="237.30" y="629.00" text-anchor="middle" style="font-family:'Liberation Serif',serif;font-size:17px" fill="#262626">λ</text>
<text transform="translate(14.20,469.00) rotate(-90) scale(0.98,1.1)" text-anchor="middle" style="font-family:'Liberation Sans',sans-serif;font-weight:bold;font-size:19px;letter-spacing:0.3px;" fill="#262626">Count</text>
</g>
</g>
<clipPath id="cd"><rect x="419.4" y="344.2" width="411.0" height="300"/></clipPath>
<g clip-path="url(#cd)">
<g>
<rect x="490.41" y="585.70" width="6.81" height="0.80" fill="#3d26a8" stroke="#2a1f5c" stroke-width="0.8"/>
<rect x="497.22" y="585.00" width="6.81" height="1.50" fill="#3d26a8" stroke="#2a1f5c" stroke-width="0.8"/>
<rect x="504.03" y="583.60" width="6.81" height="2.90" fill="#3d26a8" stroke="#2a1f5c" stroke-width="0.8"/>
<rect x="510.84" y="582.80" width="6.81" height="3.70" fill="#3d26a8" stroke="#2a1f5c" stroke-width="0.8"/>
<rect x="517.65" y="580.60" width="6.81" height="5.90" fill="#3d26a8" stroke="#2a1f5c" stroke-width="0.8"/>
<rect x="524.46" y="573.80" width="6.81" height="12.70" fill="#3d26a8" stroke="#2a1f5c" stroke-width="0.8"/>
<rect x="531.27" y="572.00" width="6.81" height="14.50" fill="#3d26a8" stroke="#2a1f5c" stroke-width="0.8"/>
<rect x="538.08" y="570.20" width="6.81" height="16.30" fill="#3d26a8" stroke="#2a1f5c" stroke-width="0.8"/>
<rect x="544.89" y="560.80" width="6.81" height="25.70" fill="#3d26a8" stroke="#2a1f5c" stroke-width="0.8"/>
<rect x="551.70" y="558.50" width="6.81" height="28.00" fill="#3d26a8" stroke="#2a1f5c" stroke-width="0.8"/>
<rect x="558.51" y="551.50" width="6.81" height="35.00" fill="#3d26a8" stroke="#2a1f5c" stroke-width="0.8"/>
<rect x="565.32" y="479.60" width="6.81" height="106.90" fill="#3d26a8" stroke="#2a1f5c" stroke-width="0.8"/>
<rect x="572.13" y="534.50" width="6.81" height="52.00" fill="#3d26a8" stroke="#2a1f5c" stroke-width="0.8"/>
<rect x="578.94" y="532.20" width="6.81" height="54.30" fill="#3d26a8" stroke="#2a1f5c" stroke-width="0.8"/>
<rect x="585.75" y="526.00" width="6.81" height="60.50" fill="#3d26a8" stroke="#2a1f5c" stroke-width="0.8"/>
<rect x="592.56" y="475.50" width="6.81" height="111.00" fill="#3d26a8" stroke="#2a1f5c" stroke-width="0.8"/>
<rect x="599.37" y="527.40" width="6.81" height="59.10" fill="#3d26a8" stroke="#2a1f5c" stroke-width="0.8"/>
<rect x="606.18" y="525.40" width="6.81" height="61.10" fill="#3d26a8" stroke="#2a1f5c" stroke-width="0.8"/>
<rect x="612.99" y="510.60" width="6.81" height="75.90" fill="#3d26a8" stroke="#2a1f5c" stroke-width="0.8"/>
<rect x="619.80" y="524.20" width="6.81" height="62.30" fill="#3d26a8" stroke="#2a1f5c" stroke-width="0.8"/>
<rect x="626.61" y="525.40" width="6.81" height="61.10" fill="#3d26a8" stroke="#2a1f5c" stroke-width="0.8"/>
<rect x="633.42" y="534.40" width="6.81" height="52.10" fill="#3d26a8" stroke="#2a1f5c" stroke-width="0.8"/>
<rect x="640.23" y="549.40" width="6.81" height="37.10" fill="#3d26a8" stroke="#2a1f5c" stroke-width="0.8"/>
<rect x="647.04" y="545.60" width="6.81" height="40.90" fill="#3d26a8" stroke="#2a1f5c" stroke-width="0.8"/>
<rect x="653.85" y="371.30" width="6.81" height="215.20" fill="#3d26a8" stroke="#2a1f5c" stroke-width="0.8"/>
<rect x="660.66" y="538.50" width="6.81" height="48.00" fill="#3d26a8" stroke="#2a1f5c" stroke-width="0.8"/>
<rect x="667.47" y="540.20" width="6.81" height="46.30" fill="#3d26a8" stroke="#2a1f5c" stroke-width="0.8"/>
<rect x="674.28" y="543.70" width="6.81" height="42.80" fill="#3d26a8" stroke="#2a1f5c" stroke-width="0.8"/>
<rect x="681.09" y="546.10" width="6.81" height="40.40" fill="#3d26a8" stroke="#2a1f5c" stroke-width="0.8"/>
<rect x="687.90" y="545.70" width="6.81" height="40.80" fill="#3d26a8" stroke="#2a1f5c" stroke-width="0.8"/>
<rect x="694.71" y="547.00" width="6.81" height="39.50" fill="#3d26a8" stroke="#2a1f5c" stroke-width="0.8"/>
<rect x="701.52" y="549.20" width="6.81" height="37.30" fill="#3d26a8" stroke="#2a1f5c" stroke-width="0.8"/>
<rect x="708.33" y="551.80" width="6.81" height="34.70" fill="#3d26a8" stroke="#2a1f5c" stroke-width="0.8"/>
<rect x="715.14" y="554.80" width="6.81" height="31.70" fill="#3d26a8" stroke="#2a1f5c" stroke-width="0.8"/>
<rect x="721.95" y="556.50" width="6.81" height="30.00" fill="#3d26a8" stroke="#2a1f5c" stroke-width="0.8"/>
<rect x="728.76" y="556.20" width="6.81" height="30.30" fill="#3d26a8" stroke="#2a1f5c" stroke-width="0.8"/>
<rect x="735.57" y="555.20" width="6.81" height="31.30" fill="#3d26a8" stroke="#2a1f5c" stroke-width="0.8"/>
<rect x="742.38" y="552.30" width="6.81" height="34.20" fill="#3d26a8" stroke="#2a1f5c" stroke-width="0.8"/>
<rect x="749.19" y="556.20" width="6.81" height="30.30" fill="#3d26a8" stroke="#2a1f5c" stroke-width="0.8"/>
<rect x="756.00" y="560.00" width="6.81" height="26.50" fill="#3d26a8" stroke="#2a1f5c" stroke-width="0.8"/>
<rect x="762.81" y="561.00" width="6.81" height="25.50" fill="#3d26a8" stroke="#2a1f5c" stroke-width="0.8"/>
<rect x="769.62" y="562.50" width="6.81" height="24.00" fill="#3d26a8" stroke="#2a1f5c" stroke-width="0.8"/>
<rect x="776.43" y="554.70" width="6.81" height="31.80" fill="#3d26a8" stroke="#2a1f5c" stroke-width="0.8"/>
<rect x="783.24" y="561.50" width="6.81" height="25.00" fill="#3d26a8" stroke="#2a1f5c" stroke-width="0.8"/>
<rect x="790.05" y="562.50" width="6.81" height="24.00" fill="#3d26a8" stroke="#2a1f5c" stroke-width="0.8"/>
<rect x="796.86" y="563.90" width="6.81" height="22.60" fill="#3d26a8" stroke="#2a1f5c" stroke-width="0.8"/>
<rect x="803.67" y="562.00" width="6.81" height="24.50" fill="#3d26a8" stroke="#2a1f5c" stroke-width="0.8"/>
<rect x="810.48" y="563.90" width="6.81" height="22.60" fill="#3d26a8" stroke="#2a1f5c" stroke-width="0.8"/>
<rect x="817.29" y="570.60" width="6.81" height="15.90" fill="#3d26a8" stroke="#2a1f5c" stroke-width="0.8"/>
<rect x="824.10" y="575.30" width="6.81" height="11.20" fill="#3d26a8" stroke="#2a1f5c" stroke-width="0.8"/>
<path d="M482.50 350.80V586.50H830.91" fill="none" stroke="#262626" stroke-width="1"/>
<line x1="482.50" y1="538.50" x2="486.00" y2="538.50" stroke="#262626" stroke-width="1"/>
<line x1="482.50" y1="491.50" x2="486.00" y2="491.50" stroke="#262626" stroke-width="1"/>
<line x1="482.50" y1="444.50" x2="486.00" y2="444.50" stroke="#262626" stroke-width="1"/>
<line x1="482.50" y1="397.50" x2="486.00" y2="397.50" stroke="#262626" stroke-width="1"/>
<line x1="482.50" y1="350.50" x2="486.00" y2="350.50" stroke="#262626" stroke-width="1"/>
<circle cx="493.81" cy="581.60" r="4.15" fill="#ff0000"/>
<circle cx="500.62" cy="580.20" r="4.15" fill="#ff0000"/>
<circle cx="507.43" cy="578.80" r="4.15" fill="#ff0000"/>
<circle cx="514.25" cy="579.20" r="4.15" fill="#ff0000"/>
<circle cx="521.05" cy="575.50" r="4.15" fill="#ff0000"/>
<circle cx="527.87" cy="569.40" r="4.15" fill="#ff0000"/>
<circle cx="534.67" cy="567.10" r="4.15" fill="#ff0000"/>
<circle cx="541.49" cy="565.30" r="4.15" fill="#ff0000"/>
<circle cx="548.29" cy="556.90" r="4.15" fill="#ff0000"/>
<circle cx="555.11" cy="552.70" r="4.15" fill="#ff0000"/>
<circle cx="561.91" cy="547.90" r="4.15" fill="#ff0000"/>
<circle cx="568.72" cy="479.40" r="4.15" fill="#ff0000"/>
<circle cx="575.53" cy="531.80" r="4.15" fill="#ff0000"/>
<circle cx="582.34" cy="528.20" r="4.15" fill="#ff0000"/>
<circle cx="589.15" cy="525.40" r="4.15" fill="#ff0000"/>
<circle cx="595.96" cy="478.00" r="4.15" fill="#ff0000"/>
<circle cx="602.77" cy="525.40" r="4.15" fill="#ff0000"/>
<circle cx="609.58" cy="518.60" r="4.15" fill="#ff0000"/>
<circle cx="616.39" cy="516.90" r="4.15" fill="#ff0000"/>
<circle cx="623.20" cy="521.80" r="4.15" fill="#ff0000"/>
<circle cx="630.01" cy="527.10" r="4.15" fill="#ff0000"/>
<circle cx="636.82" cy="536.20" r="4.15" fill="#ff0000"/>
<circle cx="643.63" cy="541.90" r="4.15" fill="#ff0000"/>
<circle cx="650.44" cy="527.10" r="4.15" fill="#ff0000"/>
<circle cx="657.25" cy="403.60" r="4.15" fill="#ff0000"/>
<circle cx="664.06" cy="525.40" r="4.15" fill="#ff0000"/>
<circle cx="670.88" cy="538.30" r="4.15" fill="#ff0000"/>
<circle cx="677.68" cy="540.00" r="4.15" fill="#ff0000"/>
<circle cx="684.49" cy="541.50" r="4.15" fill="#ff0000"/>
<circle cx="691.30" cy="543.20" r="4.15" fill="#ff0000"/>
<circle cx="698.12" cy="544.70" r="4.15" fill="#ff0000"/>
<circle cx="704.92" cy="546.80" r="4.15" fill="#ff0000"/>
<circle cx="711.73" cy="549.40" r="4.15" fill="#ff0000"/>
<circle cx="718.54" cy="553.20" r="4.15" fill="#ff0000"/>
<circle cx="725.36" cy="555.30" r="4.15" fill="#ff0000"/>
<circle cx="732.16" cy="555.30" r="4.15" fill="#ff0000"/>
<circle cx="738.97" cy="554.90" r="4.15" fill="#ff0000"/>
<circle cx="745.78" cy="555.30" r="4.15" fill="#ff0000"/>
<circle cx="752.60" cy="557.00" r="4.15" fill="#ff0000"/>
<circle cx="759.40" cy="558.50" r="4.15" fill="#ff0000"/>
<circle cx="766.21" cy="560.20" r="4.15" fill="#ff0000"/>
<circle cx="773.02" cy="560.20" r="4.15" fill="#ff0000"/>
<circle cx="779.83" cy="558.50" r="4.15" fill="#ff0000"/>
<circle cx="786.64" cy="559.60" r="4.15" fill="#ff0000"/>
<circle cx="793.45" cy="559.60" r="4.15" fill="#ff0000"/>
<circle cx="800.26" cy="561.70" r="4.15" fill="#ff0000"/>
<circle cx="807.07" cy="557.90" r="4.15" fill="#ff0000"/>
<circle cx="813.88" cy="561.30" r="4.15" fill="#ff0000"/>
<circle cx="820.69" cy="568.50" r="4.15" fill="#ff0000"/>
<circle cx="827.50" cy="581.30" r="4.15" fill="#ff0000"/>
<text transform="translate(478.10,592.90) scale(1,1.09)" text-anchor="end" style="font-family:'Liberation Sans',sans-serif;font-weight:bold;font-size:17px;letter-spacing:0.25px;" fill="#262626">0</text>
<text transform="translate(478.10,545.86) scale(1,1.09)" text-anchor="end" style="font-family:'Liberation Sans',sans-serif;font-weight:bold;font-size:17px;letter-spacing:0.25px;" fill="#262626">200</text>
<text transform="translate(478.10,498.82) scale(1,1.09)" text-anchor="end" style="font-family:'Liberation Sans',sans-serif;font-weight:bold;font-size:17px;letter-spacing:0.25px;" fill="#262626">400</text>
<text transform="translate(478.10,451.78) scale(1,1.09)" text-anchor="end" style="font-family:'Liberation Sans',sans-serif;font-weight:bold;font-size:17px;letter-spacing:0.25px;" fill="#262626">600</text>
<text transform="translate(478.10,404.74) scale(1,1.09)" text-anchor="end" style="font-family:'Liberation Sans',sans-serif;font-weight:bold;font-size:17px;letter-spacing:0.25px;" fill="#262626">800</text>
<text transform="translate(478.10,357.70) scale(1,1.09)" text-anchor="end" style="font-family:'Liberation Sans',sans-serif;font-weight:bold;font-size:17px;letter-spacing:0.25px;" fill="#262626">1000</text>
<text transform="translate(483.00,608.30) scale(1,1.09)" text-anchor="middle" style="font-family:'Liberation Sans',sans-serif;font-weight:bold;font-size:17px;letter-spacing:0.25px;" fill="#262626">-1</text>
<text transform="translate(517.74,608.30) scale(1,1.09)" text-anchor="middle" style="font-family:'Liberation Sans',sans-serif;font-weight:bold;font-size:17px;letter-spacing:0.25px;" fill="#262626">-0.8</text>
<text transform="translate(552.48,608.30) scale(1,1.09)" text-anchor="middle" style="font-family:'Liberation Sans',sans-serif;font-weight:bold;font-size:17px;letter-spacing:0.25px;" fill="#262626">-0.6</text>
<text transform="translate(587.22,608.30) scale(1,1.09)" text-anchor="middle" style="font-family:'Liberation Sans',sans-serif;font-weight:bold;font-size:17px;letter-spacing:0.25px;" fill="#262626">-0.4</text>
<text transform="translate(621.96,608.30) scale(1,1.09)" text-anchor="middle" style="font-family:'Liberation Sans',sans-serif;font-weight:bold;font-size:17px;letter-spacing:0.25px;" fill="#262626">-0.2</text>
<text transform="translate(656.70,608.30) scale(1,1.09)" text-anchor="middle" style="font-family:'Liberation Sans',sans-serif;font-weight:bold;font-size:17px;letter-spacing:0.25px;" fill="#262626">0</text>
<text transform="translate(691.44,608.30) scale(1,1.09)" text-anchor="middle" style="font-family:'Liberation Sans',sans-serif;font-weight:bold;font-size:17px;letter-spacing:0.25px;" fill="#262626">0.2</text>
<text transform="translate(726.18,608.30) scale(1,1.09)" text-anchor="middle" style="font-family:'Liberation Sans',sans-serif;font-weight:bold;font-size:17px;letter-spacing:0.25px;" fill="#262626">0.4</text>
<text transform="translate(760.92,608.30) scale(1,1.09)" text-anchor="middle" style="font-family:'Liberation Sans',sans-serif;font-weight:bold;font-size:17px;letter-spacing:0.25px;" fill="#262626">0.6</text>
<text transform="translate(795.66,608.30) scale(1,1.09)" text-anchor="middle" style="font-family:'Liberation Sans',sans-serif;font-weight:bold;font-size:17px;letter-spacing:0.25px;" fill="#262626">0.8</text>
<text transform="translate(830.40,608.30) scale(1,1.09)" text-anchor="middle" style="font-family:'Liberation Sans',sans-serif;font-weight:bold;font-size:17px;letter-spacing:0.25px;" fill="#262626">1</text>
<text x="656.70" y="629.00" text-anchor="middle" style="font-family:'Liberation Serif',serif;font-size:17px" fill="#262626">λ</text>
<text transform="translate(433.60,469.00) rotate(-90) scale(0.98,1.1)" text-anchor="middle" style="font-family:'Liberation Sans',sans-serif;font-weight:bold;font-size:19px;letter-spacing:0.3px;" fill="#262626">Count</text>
</g>
</g>
<clipPath id="ce"><rect x="0" y="707.2" width="411.2" height="300"/></clipPath>
<g clip-path="url(#ce)">
<g>
<rect x="71.01" y="948.70" width="6.81" height="0.80" fill="#3d26a8" stroke="#2a1f5c" stroke-width="0.8"/>
<rect x="77.82" y="948.00" width="6.81" height="1.50" fill="#3d26a8" stroke="#2a1f5c" stroke-width="0.8"/>
<rect x="84.63" y="946.60" width="6.81" height="2.90" fill="#3d26a8" stroke="#2a1f5c" stroke-width="0.8"/>
<rect x="91.44" y="945.80" width="6.81" height="3.70" fill="#3d26a8" stroke="#2a1f5c" stroke-width="0.8"/>
<rect x="98.25" y="943.60" width="6.81" height="5.90" fill="#3d26a8" stroke="#2a1f5c" stroke-width="0.8"/>
<rect x="105.06" y="936.80" width="6.81" height="12.70" fill="#3d26a8" stroke="#2a1f5c" stroke-width="0.8"/>
<rect x="111.87" y="935.00" width="6.81" height="14.50" fill="#3d26a8" stroke="#2a1f5c" stroke-width="0.8"/>
<rect x="118.68" y="933.20" width="6.81" height="16.30" fill="#3d26a8" stroke="#2a1f5c" stroke-width="0.8"/>
<rect x="125.49" y="923.80" width="6.81" height="25.70" fill="#3d26a8" stroke="#2a1f5c" stroke-width="0.8"/>
<rect x="132.30" y="921.50" width="6.81" height="28.00" fill="#3d26a8" stroke="#2a1f5c" stroke-width="0.8"/>
<rect x="139.11" y="914.50" width="6.81" height="35.00" fill="#3d26a8" stroke="#2a1f5c" stroke-width="0.8"/>
<rect x="145.92" y="842.60" width="6.81" height="106.90" fill="#3d26a8" stroke="#2a1f5c" stroke-width="0.8"/>
<rect x="152.73" y="897.50" width="6.81" height="52.00" fill="#3d26a8" stroke="#2a1f5c" stroke-width="0.8"/>
<rect x="159.54" y="895.20" width="6.81" height="54.30" fill="#3d26a8" stroke="#2a1f5c" stroke-width="0.8"/>
<rect x="166.35" y="889.00" width="6.81" height="60.50" fill="#3d26a8" stroke="#2a1f5c" stroke-width="0.8"/>
<rect x="173.16" y="838.50" width="6.81" height="111.00" fill="#3d26a8" stroke="#2a1f5c" stroke-width="0.8"/>
<rect x="179.97" y="890.40" width="6.81" height="59.10" fill="#3d26a8" stroke="#2a1f5c" stroke-width="0.8"/>
<rect x="186.78" y="888.40" width="6.81" height="61.10" fill="#3d26a8" stroke="#2a1f5c" stroke-width="0.8"/>
<rect x="193.59" y="873.60" width="6.81" height="75.90" fill="#3d26a8" stroke="#2a1f5c" stroke-width="0.8"/>
<rect x="200.40" y="887.20" width="6.81" height="62.30" fill="#3d26a8" stroke="#2a1f5c" stroke-width="0.8"/>
<rect x="207.21" y="888.40" width="6.81" height="61.10" fill="#3d26a8" stroke="#2a1f5c" stroke-width="0.8"/>
<rect x="214.02" y="897.40" width="6.81" height="52.10" fill="#3d26a8" stroke="#2a1f5c" stroke-width="0.8"/>
<rect x="220.83" y="912.40" width="6.81" height="37.10" fill="#3d26a8" stroke="#2a1f5c" stroke-width="0.8"/>
<rect x="227.64" y="908.60" width="6.81" height="40.90" fill="#3d26a8" stroke="#2a1f5c" stroke-width="0.8"/>
<rect x="234.45" y="734.30" width="6.81" height="215.20" fill="#3d26a8" stroke="#2a1f5c" stroke-width="0.8"/>
<rect x="241.26" y="901.50" width="6.81" height="48.00" fill="#3d26a8" stroke="#2a1f5c" stroke-width="0.8"/>
<rect x="248.07" y="903.20" width="6.81" height="46.30" fill="#3d26a8" stroke="#2a1f5c" stroke-width="0.8"/>
<rect x="254.88" y="906.70" width="6.81" height="42.80" fill="#3d26a8" stroke="#2a1f5c" stroke-width="0.8"/>
<rect x="261.69" y="909.10" width="6.81" height="40.40" fill="#3d26a8" stroke="#2a1f5c" stroke-width="0.8"/>
<rect x="268.50" y="908.70" width="6.81" height="40.80" fill="#3d26a8" stroke="#2a1f5c" stroke-width="0.8"/>
<rect x="275.31" y="910.00" width="6.81" height="39.50" fill="#3d26a8" stroke="#2a1f5c" stroke-width="0.8"/>
<rect x="282.12" y="912.20" width="6.81" height="37.30" fill="#3d26a8" stroke="#2a1f5c" stroke-width="0.8"/>
<rect x="288.93" y="914.80" width="6.81" height="34.70" fill="#3d26a8" stroke="#2a1f5c" stroke-width="0.8"/>
<rect x="295.74" y="917.80" width="6.81" height="31.70" fill="#3d26a8" stroke="#2a1f5c" stroke-width="0.8"/>
<rect x="302.55" y="919.50" width="6.81" height="30.00" fill="#3d26a8" stroke="#2a1f5c" stroke-width="0.8"/>
<rect x="309.36" y="919.20" width="6.81" height="30.30" fill="#3d26a8" stroke="#2a1f5c" stroke-width="0.8"/>
<rect x="316.17" y="918.20" width="6.81" height="31.30" fill="#3d26a8" stroke="#2a1f5c" stroke-width="0.8"/>
<rect x="322.98" y="915.30" width="6.81" height="34.20" fill="#3d26a8" stroke="#2a1f5c" stroke-width="0.8"/>
<rect x="329.79" y="919.20" width="6.81" height="30.30" fill="#3d26a8" stroke="#2a1f5c" stroke-width="0.8"/>
<rect x="336.60" y="923.00" width="6.81" height="26.50" fill="#3d26a8" stroke="#2a1f5c" stroke-width="0.8"/>
<rect x="343.41" y="924.00" width="6.81" height="25.50" fill="#3d26a8" stroke="#2a1f5c" stroke-width="0.8"/>
<rect x="350.22" y="925.50" width="6.81" height="24.00" fill="#3d26a8" stroke="#2a1f5c" stroke-width="0.8"/>
<rect x="357.03" y="917.70" width="6.81" height="31.80" fill="#3d26a8" stroke="#2a1f5c" stroke-width="0.8"/>
<rect x="363.84" y="924.50" width="6.81" height="25.00" fill="#3d26a8" stroke="#2a1f5c" stroke-width="0.8"/>
<rect x="370.65" y="925.50" width="6.81" height="24.00" fill="#3d26a8" stroke="#2a1f5c" stroke-width="0.8"/>
<rect x="377.46" y="926.90" width="6.81" height="22.60" fill="#3d26a8" stroke="#2a1f5c" stroke-width="0.8"/>
<rect x="384.27" y="925.00" width="6.81" height="24.50" fill="#3d26a8" stroke="#2a1f5c" stroke-width="0.8"/>
<rect x="391.08" y="926.90" width="6.81" height="22.60" fill="#3d26a8" stroke="#2a1f5c" stroke-width="0.8"/>
<rect x="397.89" y="933.60" width="6.81" height="15.90" fill="#3d26a8" stroke="#2a1f5c" stroke-width="0.8"/>
<rect x="404.70" y="938.30" width="6.81" height="11.20" fill="#3d26a8" stroke="#2a1f5c" stroke-width="0.8"/>
<path d="M63.50 713.80V949.50H411.51" fill="none" stroke="#262626" stroke-width="1"/>
<line x1="63.50" y1="901.50" x2="67.00" y2="901.50" stroke="#262626" stroke-width="1"/>
<line x1="63.50" y1="854.50" x2="67.00" y2="854.50" stroke="#262626" stroke-width="1"/>
<line x1="63.50" y1="807.50" x2="67.00" y2="807.50" stroke="#262626" stroke-width="1"/>
<line x1="63.50" y1="760.50" x2="67.00" y2="760.50" stroke="#262626" stroke-width="1"/>
<line x1="63.50" y1="713.50" x2="67.00" y2="713.50" stroke="#262626" stroke-width="1"/>
<circle cx="74.42" cy="944.10" r="4.15" fill="#ff0000"/>
<circle cx="81.22" cy="942.70" r="4.15" fill="#ff0000"/>
<circle cx="88.03" cy="941.80" r="4.15" fill="#ff0000"/>
<circle cx="94.84" cy="941.80" r="4.15" fill="#ff0000"/>
<circle cx="101.66" cy="938.00" r="4.15" fill="#ff0000"/>
<circle cx="108.47" cy="932.00" r="4.15" fill="#ff0000"/>
<circle cx="115.28" cy="930.10" r="4.15" fill="#ff0000"/>
<circle cx="122.09" cy="928.30" r="4.15" fill="#ff0000"/>
<circle cx="128.89" cy="920.80" r="4.15" fill="#ff0000"/>
<circle cx="135.70" cy="917.10" r="4.15" fill="#ff0000"/>
<circle cx="142.51" cy="910.90" r="4.15" fill="#ff0000"/>
<circle cx="149.32" cy="843.90" r="4.15" fill="#ff0000"/>
<circle cx="156.13" cy="896.50" r="4.15" fill="#ff0000"/>
<circle cx="162.94" cy="891.80" r="4.15" fill="#ff0000"/>
<circle cx="169.75" cy="888.40" r="4.15" fill="#ff0000"/>
<circle cx="176.56" cy="839.70" r="4.15" fill="#ff0000"/>
<circle cx="183.38" cy="888.40" r="4.15" fill="#ff0000"/>
<circle cx="190.19" cy="889.70" r="4.15" fill="#ff0000"/>
<circle cx="197.00" cy="871.70" r="4.15" fill="#ff0000"/>
<circle cx="203.81" cy="889.00" r="4.15" fill="#ff0000"/>
<circle cx="210.62" cy="890.10" r="4.15" fill="#ff0000"/>
<circle cx="217.43" cy="899.20" r="4.15" fill="#ff0000"/>
<circle cx="224.24" cy="905.40" r="4.15" fill="#ff0000"/>
<circle cx="231.05" cy="891.20" r="4.15" fill="#ff0000"/>
<circle cx="237.86" cy="768.30" r="4.15" fill="#ff0000"/>
<circle cx="244.67" cy="889.00" r="4.15" fill="#ff0000"/>
<circle cx="251.47" cy="900.90" r="4.15" fill="#ff0000"/>
<circle cx="258.28" cy="901.90" r="4.15" fill="#ff0000"/>
<circle cx="265.09" cy="903.40" r="4.15" fill="#ff0000"/>
<circle cx="271.90" cy="905.10" r="4.15" fill="#ff0000"/>
<circle cx="278.71" cy="907.30" r="4.15" fill="#ff0000"/>
<circle cx="285.52" cy="910.20" r="4.15" fill="#ff0000"/>
<circle cx="292.33" cy="913.00" r="4.15" fill="#ff0000"/>
<circle cx="299.14" cy="915.20" r="4.15" fill="#ff0000"/>
<circle cx="305.95" cy="917.30" r="4.15" fill="#ff0000"/>
<circle cx="312.76" cy="917.60" r="4.15" fill="#ff0000"/>
<circle cx="319.57" cy="917.90" r="4.15" fill="#ff0000"/>
<circle cx="326.38" cy="919.40" r="4.15" fill="#ff0000"/>
<circle cx="333.19" cy="919.70" r="4.15" fill="#ff0000"/>
<circle cx="340.00" cy="919.40" r="4.15" fill="#ff0000"/>
<circle cx="346.81" cy="922.20" r="4.15" fill="#ff0000"/>
<circle cx="353.62" cy="922.60" r="4.15" fill="#ff0000"/>
<circle cx="360.43" cy="919.40" r="4.15" fill="#ff0000"/>
<circle cx="367.24" cy="921.50" r="4.15" fill="#ff0000"/>
<circle cx="374.05" cy="922.60" r="4.15" fill="#ff0000"/>
<circle cx="380.86" cy="925.10" r="4.15" fill="#ff0000"/>
<circle cx="387.67" cy="922.20" r="4.15" fill="#ff0000"/>
<circle cx="394.48" cy="925.80" r="4.15" fill="#ff0000"/>
<circle cx="401.29" cy="933.20" r="4.15" fill="#ff0000"/>
<circle cx="408.10" cy="948.10" r="4.15" fill="#ff0000"/>
<text transform="translate(59.10,955.90) scale(1,1.09)" text-anchor="end" style="font-family:'Liberation Sans',sans-serif;font-weight:bold;font-size:17px;letter-spacing:0.25px;" fill="#262626">0</text>
<text transform="translate(59.10,908.86) scale(1,1.09)" text-anchor="end" style="font-family:'Liberation Sans',sans-serif;font-weight:bold;font-size:17px;letter-spacing:0.25px;" fill="#262626">200</text>
<text transform="translate(59.10,861.82) scale(1,1.09)" text-anchor="end" style="font-family:'Liberation Sans',sans-serif;font-weight:bold;font-size:17px;letter-spacing:0.25px;" fill="#262626">400</text>
<text transform="translate(59.10,814.78) scale(1,1.09)" text-anchor="end" style="font-family:'Liberation Sans',sans-serif;font-weight:bold;font-size:17px;letter-spacing:0.25px;" fill="#262626">600</text>
<text transform="translate(59.10,767.74) scale(1,1.09)" text-anchor="end" style="font-family:'Liberation Sans',sans-serif;font-weight:bold;font-size:17px;letter-spacing:0.25px;" fill="#262626">800</text>
<text transform="translate(59.10,720.70) scale(1,1.09)" text-anchor="end" style="font-family:'Liberation Sans',sans-serif;font-weight:bold;font-size:17px;letter-spacing:0.25px;" fill="#262626">1000</text>
<text transform="translate(63.60,971.30) scale(1,1.09)" text-anchor="middle" style="font-family:'Liberation Sans',sans-serif;font-weight:bold;font-size:17px;letter-spacing:0.25px;" fill="#262626">-1</text>
<text transform="translate(98.34,971.30) scale(1,1.09)" text-anchor="middle" style="font-family:'Liberation Sans',sans-serif;font-weight:bold;font-size:17px;letter-spacing:0.25px;" fill="#262626">-0.8</text>
<text transform="translate(133.08,971.30) scale(1,1.09)" text-anchor="middle" style="font-family:'Liberation Sans',sans-serif;font-weight:bold;font-size:17px;letter-spacing:0.25px;" fill="#262626">-0.6</text>
<text transform="translate(167.82,971.30) scale(1,1.09)" text-anchor="middle" style="font-family:'Liberation Sans',sans-serif;font-weight:bold;font-size:17px;letter-spacing:0.25px;" fill="#262626">-0.4</text>
<text transform="translate(202.56,971.30) scale(1,1.09)" text-anchor="middle" style="font-family:'Liberation Sans',sans-serif;font-weight:bold;font-size:17px;letter-spacing:0.25px;" fill="#262626">-0.2</text>
<text transform="translate(237.30,971.30) scale(1,1.09)" text-anchor="middle" style="font-family:'Liberation Sans',sans-serif;font-weight:bold;font-size:17px;letter-spacing:0.25px;" fill="#262626">0</text>
<text transform="translate(272.04,971.30) scale(1,1.09)" text-anchor="middle" style="font-family:'Liberation Sans',sans-serif;font-weight:bold;font-size:17px;letter-spacing:0.25px;" fill="#262626">0.2</text>
<text transform="translate(306.78,971.30) scale(1,1.09)" text-anchor="middle" style="font-family:'Liberation Sans',sans-serif;font-weight:bold;font-size:17px;letter-spacing:0.25px;" fill="#262626">0.4</text>
<text transform="translate(341.52,971.30) scale(1,1.09)" text-anchor="middle" style="font-family:'Liberation Sans',sans-serif;font-weight:bold;font-size:17px;letter-spacing:0.25px;" fill="#262626">0.6</text>
<text transform="translate(376.26,971.30) scale(1,1.09)" text-anchor="middle" style="font-family:'Liberation Sans',sans-serif;font-weight:bold;font-size:17px;letter-spacing:0.25px;" fill="#262626">0.8</text>
<text transform="translate(411.00,971.30) scale(1,1.09)" text-anchor="middle" style="font-family:'Liberation Sans',sans-serif;font-weight:bold;font-size:17px;letter-spacing:0.25px;" fill="#262626">1</text>
<text x="237.30" y="992.00" text-anchor="middle" style="font-family:'Liberation Serif',serif;font-size:17px" fill="#262626">λ</text>
<text transform="translate(14.20,832.00) rotate(-90) scale(0.98,1.1)" text-anchor="middle" style="font-family:'Liberation Sans',sans-serif;font-weight:bold;font-size:19px;letter-spacing:0.3px;" fill="#262626">Count</text>
</g>
</g>
<line x1="536.50" y1="695.70" x2="536.50" y2="956.60" stroke="#e3e3e3" stroke-width="1"/>
<line x1="604.50" y1="695.70" x2="604.50" y2="956.60" stroke="#e3e3e3" stroke-width="1"/>
<line x1="672.50" y1="695.70" x2="672.50" y2="956.60" stroke="#e3e3e3" stroke-width="1"/>
<line x1="741.50" y1="695.70" x2="741.50" y2="956.60" stroke="#e3e3e3" stroke-width="1"/>
<line x1="484.70" y1="904.50" x2="809.90" y2="904.50" stroke="#e3e3e3" stroke-width="1"/>
<line x1="484.70" y1="852.50" x2="809.90" y2="852.50" stroke="#e3e3e3" stroke-width="1"/>
<line x1="484.70" y1="800.50" x2="809.90" y2="800.50" stroke="#e3e3e3" stroke-width="1"/>
<line x1="484.70" y1="747.50" x2="809.90" y2="747.50" stroke="#e3e3e3" stroke-width="1"/>
<polyline points="484.70,711.56 501.82,778.35 518.93,830.43 536.05,865.18 553.16,889.39 570.28,904.84 587.39,910.99 604.51,916.63 621.63,920.60 638.74,919.76 655.86,921.12 672.97,921.12 690.09,921.95 707.21,925.29 724.32,924.77 741.44,925.50 758.55,925.50 775.67,928.94 792.78,928.21 809.90,927.90" fill="none" stroke="#dd1111" stroke-width="2.6" stroke-dasharray="10,9.5"/>
<path d="M484.70 705.26L489.80 711.56L484.70 717.86L479.60 711.56Z" fill="#f00000"/>
<path d="M501.82 772.05L506.92 778.35L501.82 784.65L496.72 778.35Z" fill="#f00000"/>
<path d="M518.93 824.13L524.03 830.43L518.93 836.73L513.83 830.43Z" fill="#f00000"/>
<path d="M536.05 858.88L541.15 865.18L536.05 871.48L530.95 865.18Z" fill="#f00000"/>
<path d="M553.16 883.09L558.26 889.39L553.16 895.69L548.06 889.39Z" fill="#f00000"/>
<path d="M570.28 898.54L575.38 904.84L570.28 911.14L565.18 904.84Z" fill="#f00000"/>
<path d="M587.39 904.69L592.49 910.99L587.39 917.29L582.29 910.99Z" fill="#f00000"/>
<path d="M604.51 910.33L609.61 916.63L604.51 922.93L599.41 916.63Z" fill="#f00000"/>
<path d="M621.63 914.30L626.73 920.60L621.63 926.90L616.53 920.60Z" fill="#f00000"/>
<path d="M638.74 913.46L643.84 919.76L638.74 926.06L633.64 919.76Z" fill="#f00000"/>
<path d="M655.86 914.82L660.96 921.12L655.86 927.42L650.76 921.12Z" fill="#f00000"/>
<path d="M672.97 914.82L678.07 921.12L672.97 927.42L667.87 921.12Z" fill="#f00000"/>
<path d="M690.09 915.65L695.19 921.95L690.09 928.25L684.99 921.95Z" fill="#f00000"/>
<path d="M707.21 918.99L712.31 925.29L707.21 931.59L702.11 925.29Z" fill="#f00000"/>
<path d="M724.32 918.47L729.42 924.77L724.32 931.07L719.22 924.77Z" fill="#f00000"/>
<path d="M741.44 919.20L746.54 925.50L741.44 931.80L736.34 925.50Z" fill="#f00000"/>
<path d="M758.55 919.20L763.65 925.50L758.55 931.80L753.45 925.50Z" fill="#f00000"/>
<path d="M775.67 922.64L780.77 928.94L775.67 935.24L770.57 928.94Z" fill="#f00000"/>
<path d="M792.78 921.91L797.88 928.21L792.78 934.51L787.68 928.21Z" fill="#f00000"/>
<path d="M809.90 921.60L815.00 927.90L809.90 934.20L804.80 927.90Z" fill="#f00000"/>
<polyline points="484.70,792.13 501.82,833.98 518.93,866.54 536.05,887.62 553.16,904.63 570.28,910.16 587.39,915.06 604.51,920.28 621.63,921.01 638.74,921.95 655.86,922.79 672.97,923.41 690.09,925.61 707.21,926.54 724.32,926.54 741.44,927.17 758.55,927.17 775.67,929.68 792.78,929.68 809.90,928.94" fill="none" stroke="#22ee22" stroke-width="2.6"/>
<polygon points="484.70,787.13 483.00,789.18 480.37,789.63 481.30,792.13 480.37,794.63 483.00,795.07 484.70,797.13 486.40,795.07 489.03,794.63 488.10,792.13 489.03,789.63 486.40,789.18" fill="#11ee11" stroke="#11ee11" stroke-width="2" stroke-linejoin="round"/>
<polygon points="501.82,828.98 500.12,831.03 497.49,831.48 498.42,833.98 497.49,836.48 500.12,836.92 501.82,838.98 503.52,836.92 506.15,836.48 505.22,833.98 506.15,831.48 503.52,831.03" fill="#11ee11" stroke="#11ee11" stroke-width="2" stroke-linejoin="round"/>
<polygon points="518.93,861.54 517.23,863.59 514.60,864.04 515.53,866.54 514.60,869.04 517.23,869.48 518.93,871.54 520.63,869.48 523.26,869.04 522.33,866.54 523.26,864.04 520.63,863.59" fill="#11ee11" stroke="#11ee11" stroke-width="2" stroke-linejoin="round"/>
<polygon points="536.05,882.62 534.35,884.67 531.72,885.12 532.65,887.62 531.72,890.12 534.35,890.56 536.05,892.62 537.75,890.56 540.38,890.12 539.45,887.62 540.38,885.12 537.75,884.67" fill="#11ee11" stroke="#11ee11" stroke-width="2" stroke-linejoin="round"/>
<polygon points="553.16,899.63 551.46,901.68 548.83,902.13 549.76,904.63 548.83,907.13 551.46,907.57 553.16,909.63 554.86,907.57 557.49,907.13 556.56,904.63 557.49,902.13 554.86,901.68" fill="#11ee11" stroke="#11ee11" stroke-width="2" stroke-linejoin="round"/>
<polygon points="570.28,905.16 568.58,907.22 565.95,907.66 566.88,910.16 565.95,912.66 568.58,913.10 570.28,915.16 571.98,913.10 574.61,912.66 573.68,910.16 574.61,907.66 571.98,907.22" fill="#11ee11" stroke="#11ee11" stroke-width="2" stroke-linejoin="round"/>
<polygon points="587.39,910.06 585.69,912.12 583.06,912.56 583.99,915.06 583.06,917.56 585.69,918.01 587.39,920.06 589.09,918.01 591.72,917.56 590.79,915.06 591.72,912.56 589.09,912.12" fill="#11ee11" stroke="#11ee11" stroke-width="2" stroke-linejoin="round"/>
<polygon points="604.51,915.28 602.81,917.34 600.18,917.78 601.11,920.28 600.18,922.78 602.81,923.23 604.51,925.28 606.21,923.23 608.84,922.78 607.91,920.28 608.84,917.78 606.21,917.34" fill="#11ee11" stroke="#11ee11" stroke-width="2" stroke-linejoin="round"/>
<polygon points="621.63,916.01 619.93,918.07 617.30,918.51 618.23,921.01 617.30,923.51 619.93,923.96 621.63,926.01 623.33,923.96 625.96,923.51 625.03,921.01 625.96,918.51 623.33,918.07" fill="#11ee11" stroke="#11ee11" stroke-width="2" stroke-linejoin="round"/>
<polygon points="638.74,916.95 637.04,919.01 634.41,919.45 635.34,921.95 634.41,924.45 637.04,924.90 638.74,926.95 640.44,924.90 643.07,924.45 642.14,921.95 643.07,919.45 640.44,919.01" fill="#11ee11" stroke="#11ee11" stroke-width="2" stroke-linejoin="round"/>
<polygon points="655.86,917.79 654.16,919.84 651.53,920.29 652.46,922.79 651.53,925.29 654.16,925.73 655.86,927.79 657.56,925.73 660.19,925.29 659.26,922.79 660.19,920.29 657.56,919.84" fill="#11ee11" stroke="#11ee11" stroke-width="2" stroke-linejoin="round"/>
<polygon points="672.97,918.41 671.27,920.47 668.64,920.91 669.57,923.41 668.64,925.91 671.27,926.36 672.97,928.41 674.67,926.36 677.30,925.91 676.37,923.41 677.30,920.91 674.67,920.47" fill="#11ee11" stroke="#11ee11" stroke-width="2" stroke-linejoin="round"/>
<polygon points="690.09,920.61 688.39,922.66 685.76,923.11 686.69,925.61 685.76,928.11 688.39,928.55 690.09,930.61 691.79,928.55 694.42,928.11 693.49,925.61 694.42,923.11 691.79,922.66" fill="#11ee11" stroke="#11ee11" stroke-width="2" stroke-linejoin="round"/>
<polygon points="707.21,921.54 705.51,923.60 702.88,924.04 703.81,926.54 702.88,929.04 705.51,929.49 707.21,931.54 708.91,929.49 711.54,929.04 710.61,926.54 711.54,924.04 708.91,923.60" fill="#11ee11" stroke="#11ee11" stroke-width="2" stroke-linejoin="round"/>
<polygon points="724.32,921.54 722.62,923.60 719.99,924.04 720.92,926.54 719.99,929.04 722.62,929.49 724.32,931.54 726.02,929.49 728.65,929.04 727.72,926.54 728.65,924.04 726.02,923.60" fill="#11ee11" stroke="#11ee11" stroke-width="2" stroke-linejoin="round"/>
<polygon points="741.44,922.17 739.74,924.23 737.11,924.67 738.04,927.17 737.11,929.67 739.74,930.11 741.44,932.17 743.14,930.11 745.77,929.67 744.84,927.17 745.77,924.67 743.14,924.23" fill="#11ee11" stroke="#11ee11" stroke-width="2" stroke-linejoin="round"/>
<polygon points="758.55,922.17 756.85,924.23 754.22,924.67 755.15,927.17 754.22,929.67 756.85,930.11 758.55,932.17 760.25,930.11 762.88,929.67 761.95,927.17 762.88,924.67 760.25,924.23" fill="#11ee11" stroke="#11ee11" stroke-width="2" stroke-linejoin="round"/>
<polygon points="775.67,924.68 773.97,926.73 771.34,927.18 772.27,929.68 771.34,932.18 773.97,932.62 775.67,934.68 777.37,932.62 780.00,932.18 779.07,929.68 780.00,927.18 777.37,926.73" fill="#11ee11" stroke="#11ee11" stroke-width="2" stroke-linejoin="round"/>
<polygon points="792.78,924.68 791.08,926.73 788.45,927.18 789.38,929.68 788.45,932.18 791.08,932.62 792.78,934.68 794.48,932.62 797.11,932.18 796.18,929.68 797.11,927.18 794.48,926.73" fill="#11ee11" stroke="#11ee11" stroke-width="2" stroke-linejoin="round"/>
<polygon points="809.90,923.94 808.20,926.00 805.57,926.44 806.50,928.94 805.57,931.44 808.20,931.89 809.90,933.94 811.60,931.89 814.23,931.44 813.30,928.94 814.23,926.44 811.60,926.00" fill="#11ee11" stroke="#11ee11" stroke-width="2" stroke-linejoin="round"/>
<polyline points="484.70,828.45 501.82,863.51 518.93,890.12 536.05,910.47 553.16,922.68 570.28,928.74 587.39,932.18 604.51,933.43 621.63,934.58 638.74,935.21 655.86,933.64 672.97,935.21 690.09,933.95 707.21,933.95 724.32,935.21 741.44,934.89 758.55,934.89 775.67,934.27 792.78,933.43 809.90,933.64" fill="none" stroke="#1111dd" stroke-width="2.6"/>
<circle cx="484.70" cy="828.45" r="5.3" fill="#0a0ae6"/>
<circle cx="501.82" cy="863.51" r="5.3" fill="#0a0ae6"/>
<circle cx="518.93" cy="890.12" r="5.3" fill="#0a0ae6"/>
<circle cx="536.05" cy="910.47" r="5.3" fill="#0a0ae6"/>
<circle cx="553.16" cy="922.68" r="5.3" fill="#0a0ae6"/>
<circle cx="570.28" cy="928.74" r="5.3" fill="#0a0ae6"/>
<circle cx="587.39" cy="932.18" r="5.3" fill="#0a0ae6"/>
<circle cx="604.51" cy="933.43" r="5.3" fill="#0a0ae6"/>
<circle cx="621.63" cy="934.58" r="5.3" fill="#0a0ae6"/>
<circle cx="638.74" cy="935.21" r="5.3" fill="#0a0ae6"/>
<circle cx="655.86" cy="933.64" r="5.3" fill="#0a0ae6"/>
<circle cx="672.97" cy="935.21" r="5.3" fill="#0a0ae6"/>
<circle cx="690.09" cy="933.95" r="5.3" fill="#0a0ae6"/>
<circle cx="707.21" cy="933.95" r="5.3" fill="#0a0ae6"/>
<circle cx="724.32" cy="935.21" r="5.3" fill="#0a0ae6"/>
<circle cx="741.44" cy="934.89" r="5.3" fill="#0a0ae6"/>
<circle cx="758.55" cy="934.89" r="5.3" fill="#0a0ae6"/>
<circle cx="775.67" cy="934.27" r="5.3" fill="#0a0ae6"/>
<circle cx="792.78" cy="933.43" r="5.3" fill="#0a0ae6"/>
<circle cx="809.90" cy="933.64" r="5.3" fill="#0a0ae6"/>
<rect x="484.5" y="695.5" width="325" height="261" fill="none" stroke="#262626" stroke-width="1"/>
<line x1="536.50" y1="956.50" x2="536.50" y2="953.00" stroke="#262626"/>
<line x1="536.50" y1="695.50" x2="536.50" y2="699.00" stroke="#262626"/>
<line x1="604.50" y1="956.50" x2="604.50" y2="953.00" stroke="#262626"/>
<line x1="604.50" y1="695.50" x2="604.50" y2="699.00" stroke="#262626"/>
<line x1="672.50" y1="956.50" x2="672.50" y2="953.00" stroke="#262626"/>
<line x1="672.50" y1="695.50" x2="672.50" y2="699.00" stroke="#262626"/>
<line x1="741.50" y1="956.50" x2="741.50" y2="953.00" stroke="#262626"/>
<line x1="741.50" y1="695.50" x2="741.50" y2="699.00" stroke="#262626"/>
<line x1="484.50" y1="904.50" x2="488.00" y2="904.50" stroke="#262626"/>
<line x1="809.50" y1="904.50" x2="806.00" y2="904.50" stroke="#262626"/>
<line x1="484.50" y1="852.50" x2="488.00" y2="852.50" stroke="#262626"/>
<line x1="809.50" y1="852.50" x2="806.00" y2="852.50" stroke="#262626"/>
<line x1="484.50" y1="800.50" x2="488.00" y2="800.50" stroke="#262626"/>
<line x1="809.50" y1="800.50" x2="806.00" y2="800.50" stroke="#262626"/>
<line x1="484.50" y1="747.50" x2="488.00" y2="747.50" stroke="#262626"/>
<line x1="809.50" y1="747.50" x2="806.00" y2="747.50" stroke="#262626"/>
<rect x="698.5" y="700.5" width="106" height="65" fill="#ffffff" stroke="#262626" stroke-width="1"/>
<line x1="700.5" y1="711" x2="710" y2="711" stroke="#dd1111" stroke-width="2.6"/>
<line x1="700.5" y1="733.3" x2="715.5" y2="733.3" stroke="#22ee22" stroke-width="2.6"/>
<line x1="700.5" y1="754.4" x2="715.5" y2="754.4" stroke="#1111dd" stroke-width="2.6"/>
<text x="717.3" y="718.4" style="font-family:'Liberation Sans',sans-serif;font-weight:bold;font-size:17px;letter-spacing:0.25px" fill="#000">No Filter</text>
<text x="716.5" y="739.4" style="font-family:'Liberation Sans',sans-serif;font-weight:bold;font-size:17px;letter-spacing:0.25px" fill="#000">Zero Filter</text>
<text x="716.5" y="760.5" style="font-family:'Liberation Sans',sans-serif;font-weight:bold;font-size:17px;letter-spacing:0.25px" fill="#000">All Filter</text>
<text transform="translate(479.80,964.00) scale(1,1.09)" text-anchor="end" style="font-family:'Liberation Sans',sans-serif;font-weight:bold;font-size:18.5px;letter-spacing:0.8px;" fill="#262626">0</text>
<text transform="translate(479.80,911.82) scale(1,1.09)" text-anchor="end" style="font-family:'Liberation Sans',sans-serif;font-weight:bold;font-size:18.5px;letter-spacing:0.8px;" fill="#262626">0.05</text>
<text transform="translate(479.80,859.64) scale(1,1.09)" text-anchor="end" style="font-family:'Liberation Sans',sans-serif;font-weight:bold;font-size:18.5px;letter-spacing:0.8px;" fill="#262626">0.1</text>
<text transform="translate(479.80,807.46) scale(1,1.09)" text-anchor="end" style="font-family:'Liberation Sans',sans-serif;font-weight:bold;font-size:18.5px;letter-spacing:0.8px;" fill="#262626">0.15</text>
<text transform="translate(479.80,755.28) scale(1,1.09)" text-anchor="end" style="font-family:'Liberation Sans',sans-serif;font-weight:bold;font-size:18.5px;letter-spacing:0.8px;" fill="#262626">0.2</text>
<text transform="translate(479.80,703.10) scale(1,1.09)" text-anchor="end" style="font-family:'Liberation Sans',sans-serif;font-weight:bold;font-size:18.5px;letter-spacing:0.8px;" fill="#262626">0.25</text>
<text transform="translate(536.55,981.00) scale(1,1.09)" text-anchor="middle" style="font-family:'Liberation Sans',sans-serif;font-weight:bold;font-size:18.5px;letter-spacing:0.8px;" fill="#262626">200</text>
<text transform="translate(605.01,981.00) scale(1,1.09)" text-anchor="middle" style="font-family:'Liberation Sans',sans-serif;font-weight:bold;font-size:18.5px;letter-spacing:0.8px;" fill="#262626">400</text>
<text transform="translate(673.47,981.00) scale(1,1.09)" text-anchor="middle" style="font-family:'Liberation Sans',sans-serif;font-weight:bold;font-size:18.5px;letter-spacing:0.8px;" fill="#262626">600</text>
<text transform="translate(741.94,981.00) scale(1,1.09)" text-anchor="middle" style="font-family:'Liberation Sans',sans-serif;font-weight:bold;font-size:18.5px;letter-spacing:0.8px;" fill="#262626">800</text>
<text transform="translate(810.40,981.00) scale(1,1.09)" text-anchor="middle" style="font-family:'Liberation Sans',sans-serif;font-weight:bold;font-size:18.5px;letter-spacing:0.8px;" fill="#262626">1000</text>
<text x="646.8" y="1007.0" text-anchor="middle" style="font-family:'Liberation Sans',sans-serif;font-weight:bold;font-size:19.5px;letter-spacing:1.3px" fill="#262626">#moments</text>
<text transform="translate(436,826.3) rotate(-90)" text-anchor="middle" style="font-family:'Liberation Sans',sans-serif;font-weight:bold;font-size:19px;letter-spacing:1.05px" fill="#262626">rel. error</text>
<text x="129.96" y="330.00" textLength="149.05" lengthAdjust="spacingAndGlyphs" style="font-family:'Liberation Serif',serif;font-size:25px;font-weight:bold" fill="#000">(a) No Filter</text>
<text x="519.77" y="329.70" textLength="138.35" lengthAdjust="spacingAndGlyphs" style="font-family:'Liberation Serif',serif;font-size:25px;font-weight:bold" fill="#000">(b) Filter at</text>
<text x="668.16" y="329.70" textLength="13.52" lengthAdjust="spacingAndGlyphs" style="font-family:'Liberation Serif',serif;font-size:24px;font-style:italic" fill="#000">λ</text>
<text x="690.26" y="329.70" textLength="17.45" lengthAdjust="spacingAndGlyphs" style="font-family:'Liberation Serif',serif;font-size:24px;" fill="#000">=</text>
<text x="715.24" y="329.70" textLength="12.62" lengthAdjust="spacingAndGlyphs" style="font-family:'Liberation Serif',serif;font-size:24px;" fill="#000">0</text>
<text x="80.07" y="673.40" textLength="135.35" lengthAdjust="spacingAndGlyphs" style="font-family:'Liberation Serif',serif;font-size:25px;font-weight:bold" fill="#000">(c) Filter at</text>
<text x="225.06" y="673.40" textLength="13.52" lengthAdjust="spacingAndGlyphs" style="font-family:'Liberation Serif',serif;font-size:24px;font-style:italic" fill="#000">λ</text>
<text x="247.16" y="673.40" textLength="17.45" lengthAdjust="spacingAndGlyphs" style="font-family:'Liberation Serif',serif;font-size:24px;" fill="#000">=</text>
<text x="272.26" y="673.40" textLength="17.45" lengthAdjust="spacingAndGlyphs" style="font-family:'Liberation Serif',serif;font-size:24px;" fill="#000">−</text>
<text x="289.11" y="673.40" textLength="39.08" lengthAdjust="spacingAndGlyphs" style="font-family:'Liberation Serif',serif;font-size:24px;" fill="#000">1/3</text>
<text x="498.47" y="673.40" textLength="138.66" lengthAdjust="spacingAndGlyphs" style="font-family:'Liberation Serif',serif;font-size:25px;font-weight:bold" fill="#000">(d) Filter at</text>
<text x="646.66" y="673.40" textLength="13.52" lengthAdjust="spacingAndGlyphs" style="font-family:'Liberation Serif',serif;font-size:24px;font-style:italic" fill="#000">λ</text>
<text x="668.76" y="673.40" textLength="17.45" lengthAdjust="spacingAndGlyphs" style="font-family:'Liberation Serif',serif;font-size:24px;" fill="#000">=</text>
<text x="693.86" y="673.40" textLength="17.45" lengthAdjust="spacingAndGlyphs" style="font-family:'Liberation Serif',serif;font-size:24px;" fill="#000">−</text>
<text x="710.67" y="673.40" textLength="39.64" lengthAdjust="spacingAndGlyphs" style="font-family:'Liberation Serif',serif;font-size:24px;" fill="#000">1/2</text>
<text x="80.07" y="1035.70" textLength="135.35" lengthAdjust="spacingAndGlyphs" style="font-family:'Liberation Serif',serif;font-size:25px;font-weight:bold" fill="#000">(e) Filter at</text>
<text x="225.06" y="1035.70" textLength="13.52" lengthAdjust="spacingAndGlyphs" style="font-family:'Liberation Serif',serif;font-size:24px;font-style:italic" fill="#000">λ</text>
<text x="247.16" y="1035.70" textLength="17.45" lengthAdjust="spacingAndGlyphs" style="font-family:'Liberation Serif',serif;font-size:24px;" fill="#000">=</text>
<text x="272.26" y="1035.70" textLength="17.45" lengthAdjust="spacingAndGlyphs" style="font-family:'Liberation Serif',serif;font-size:24px;" fill="#000">−</text>
<text x="289.17" y="1035.70" textLength="38.30" lengthAdjust="spacingAndGlyphs" style="font-family:'Liberation Serif',serif;font-size:24px;" fill="#000">1/4</text>
<text x="517.24" y="1054.90" textLength="214.27" lengthAdjust="spacingAndGlyphs" style="font-family:'Liberation Serif',serif;font-size:25px;font-weight:bold" fill="#000">(f) Relative Error</text>
</svg>
</body></html>
